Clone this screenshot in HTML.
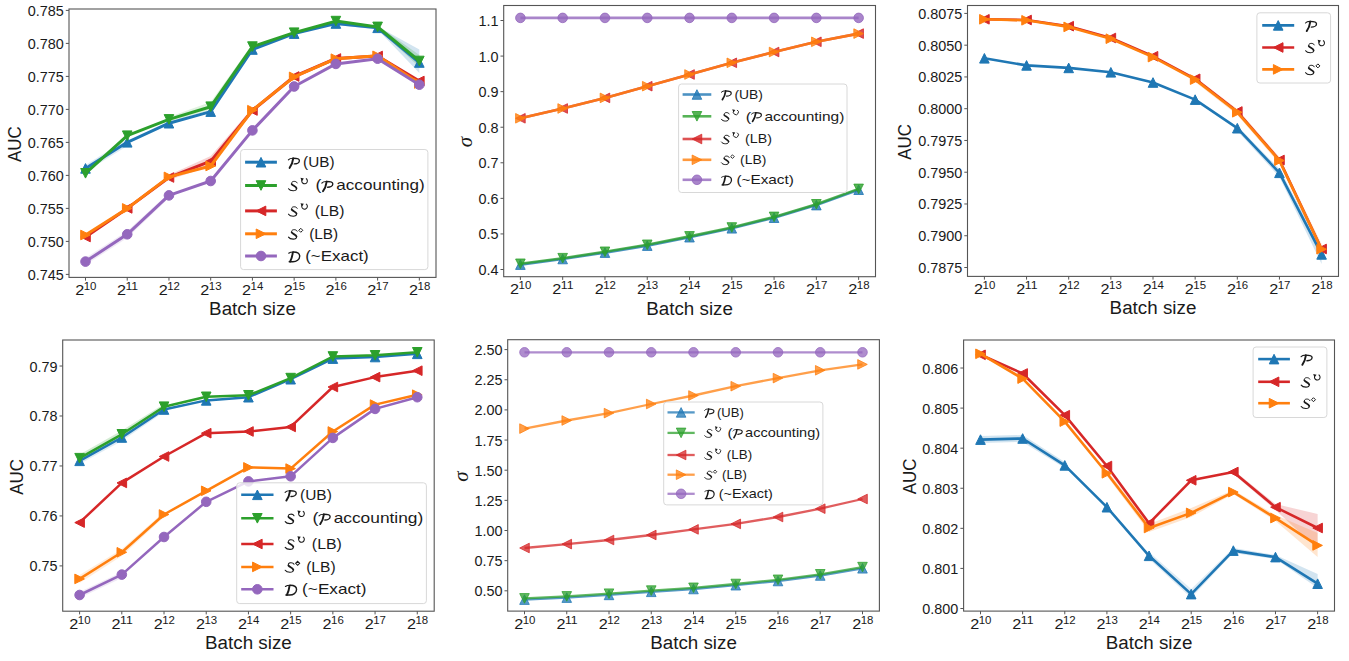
<!DOCTYPE html>
<html><head><meta charset="utf-8"><style>
html,body{margin:0;padding:0;background:#fff;}
svg{display:block;}
</style></head><body>
<svg width="1349" height="661" viewBox="0 0 1349 661">
<rect width="1349" height="661" fill="#fff"/>
<g>
<path d="M335.88,22.00 L377.61,26.50 L419.34,49.50 L419.34,73.00 L377.61,29.50 L335.88,25.00 Z" fill="#1f77b4" fill-opacity="0.2" stroke="none"/>
<path d="M377.61,25.50 L419.34,55.00 L419.34,67.00 L377.61,28.50 Z" fill="#2ca02c" fill-opacity="0.2" stroke="none"/>
<path d="M168.96,175.00 L210.69,156.00 L252.42,108.00 L252.42,113.00 L210.69,166.00 L168.96,180.00 Z" fill="#d62728" fill-opacity="0.2" stroke="none"/>
<path d="M168.96,117.00 L210.69,102.00 L252.42,44.00 L252.42,49.00 L210.69,110.00 L168.96,122.00 Z" fill="#2ca02c" fill-opacity="0.15" stroke="none"/>
<path d="M85.50,165.00 L127.23,139.00 L127.23,146.00 L85.50,172.00 Z" fill="#1f77b4" fill-opacity="0.15" stroke="none"/>
<path d="M85.50,258.00 L127.23,231.00 L168.96,193.00 L168.96,198.00 L127.23,238.00 L85.50,265.00 Z" fill="#9467bd" fill-opacity="0.15" stroke="none"/>
<path d="M85.50,168.40 L127.23,142.30 L168.96,123.20 L210.69,111.60 L252.42,49.50 L294.15,33.60 L335.88,23.50 L377.61,27.80 L419.34,62.50" fill="none" stroke="#1f77b4" stroke-opacity="1.0" stroke-width="3.0" stroke-linejoin="round" stroke-linecap="butt"/>
<polygon points="85.50,163.60 80.70,173.20 90.30,173.20" fill="#1f77b4" stroke="#1f77b4" stroke-width="1.0" fill-opacity="1.0" stroke-opacity="1.0" stroke-linejoin="miter"/>
<polygon points="127.23,137.50 122.43,147.10 132.03,147.10" fill="#1f77b4" stroke="#1f77b4" stroke-width="1.0" fill-opacity="1.0" stroke-opacity="1.0" stroke-linejoin="miter"/>
<polygon points="168.96,118.40 164.16,128.00 173.76,128.00" fill="#1f77b4" stroke="#1f77b4" stroke-width="1.0" fill-opacity="1.0" stroke-opacity="1.0" stroke-linejoin="miter"/>
<polygon points="210.69,106.80 205.89,116.40 215.49,116.40" fill="#1f77b4" stroke="#1f77b4" stroke-width="1.0" fill-opacity="1.0" stroke-opacity="1.0" stroke-linejoin="miter"/>
<polygon points="252.42,44.70 247.62,54.30 257.22,54.30" fill="#1f77b4" stroke="#1f77b4" stroke-width="1.0" fill-opacity="1.0" stroke-opacity="1.0" stroke-linejoin="miter"/>
<polygon points="294.15,28.80 289.35,38.40 298.95,38.40" fill="#1f77b4" stroke="#1f77b4" stroke-width="1.0" fill-opacity="1.0" stroke-opacity="1.0" stroke-linejoin="miter"/>
<polygon points="335.88,18.70 331.08,28.30 340.68,28.30" fill="#1f77b4" stroke="#1f77b4" stroke-width="1.0" fill-opacity="1.0" stroke-opacity="1.0" stroke-linejoin="miter"/>
<polygon points="377.61,23.00 372.81,32.60 382.41,32.60" fill="#1f77b4" stroke="#1f77b4" stroke-width="1.0" fill-opacity="1.0" stroke-opacity="1.0" stroke-linejoin="miter"/>
<polygon points="419.34,57.70 414.54,67.30 424.14,67.30" fill="#1f77b4" stroke="#1f77b4" stroke-width="1.0" fill-opacity="1.0" stroke-opacity="1.0" stroke-linejoin="miter"/>
<path d="M85.50,173.30 L127.23,135.70 L168.96,119.40 L210.69,106.70 L252.42,46.60 L294.15,32.70 L335.88,21.10 L377.61,26.90 L419.34,61.00" fill="none" stroke="#2ca02c" stroke-opacity="1.0" stroke-width="3.0" stroke-linejoin="round" stroke-linecap="butt"/>
<polygon points="85.50,178.10 80.70,168.50 90.30,168.50" fill="#2ca02c" stroke="#2ca02c" stroke-width="1.0" fill-opacity="1.0" stroke-opacity="1.0" stroke-linejoin="miter"/>
<polygon points="127.23,140.50 122.43,130.90 132.03,130.90" fill="#2ca02c" stroke="#2ca02c" stroke-width="1.0" fill-opacity="1.0" stroke-opacity="1.0" stroke-linejoin="miter"/>
<polygon points="168.96,124.20 164.16,114.60 173.76,114.60" fill="#2ca02c" stroke="#2ca02c" stroke-width="1.0" fill-opacity="1.0" stroke-opacity="1.0" stroke-linejoin="miter"/>
<polygon points="210.69,111.50 205.89,101.90 215.49,101.90" fill="#2ca02c" stroke="#2ca02c" stroke-width="1.0" fill-opacity="1.0" stroke-opacity="1.0" stroke-linejoin="miter"/>
<polygon points="252.42,51.40 247.62,41.80 257.22,41.80" fill="#2ca02c" stroke="#2ca02c" stroke-width="1.0" fill-opacity="1.0" stroke-opacity="1.0" stroke-linejoin="miter"/>
<polygon points="294.15,37.50 289.35,27.90 298.95,27.90" fill="#2ca02c" stroke="#2ca02c" stroke-width="1.0" fill-opacity="1.0" stroke-opacity="1.0" stroke-linejoin="miter"/>
<polygon points="335.88,25.90 331.08,16.30 340.68,16.30" fill="#2ca02c" stroke="#2ca02c" stroke-width="1.0" fill-opacity="1.0" stroke-opacity="1.0" stroke-linejoin="miter"/>
<polygon points="377.61,31.70 372.81,22.10 382.41,22.10" fill="#2ca02c" stroke="#2ca02c" stroke-width="1.0" fill-opacity="1.0" stroke-opacity="1.0" stroke-linejoin="miter"/>
<polygon points="419.34,65.80 414.54,56.20 424.14,56.20" fill="#2ca02c" stroke="#2ca02c" stroke-width="1.0" fill-opacity="1.0" stroke-opacity="1.0" stroke-linejoin="miter"/>
<path d="M85.50,237.00 L127.23,208.40 L168.96,177.50 L210.69,161.20 L252.42,110.50 L294.15,76.50 L335.88,58.50 L377.61,56.00 L419.34,81.00" fill="none" stroke="#d62728" stroke-opacity="1.0" stroke-width="3.0" stroke-linejoin="round" stroke-linecap="butt"/>
<polygon points="80.70,237.00 90.30,232.20 90.30,241.80" fill="#d62728" stroke="#d62728" stroke-width="1.0" fill-opacity="1.0" stroke-opacity="1.0" stroke-linejoin="miter"/>
<polygon points="122.43,208.40 132.03,203.60 132.03,213.20" fill="#d62728" stroke="#d62728" stroke-width="1.0" fill-opacity="1.0" stroke-opacity="1.0" stroke-linejoin="miter"/>
<polygon points="164.16,177.50 173.76,172.70 173.76,182.30" fill="#d62728" stroke="#d62728" stroke-width="1.0" fill-opacity="1.0" stroke-opacity="1.0" stroke-linejoin="miter"/>
<polygon points="205.89,161.20 215.49,156.40 215.49,166.00" fill="#d62728" stroke="#d62728" stroke-width="1.0" fill-opacity="1.0" stroke-opacity="1.0" stroke-linejoin="miter"/>
<polygon points="247.62,110.50 257.22,105.70 257.22,115.30" fill="#d62728" stroke="#d62728" stroke-width="1.0" fill-opacity="1.0" stroke-opacity="1.0" stroke-linejoin="miter"/>
<polygon points="289.35,76.50 298.95,71.70 298.95,81.30" fill="#d62728" stroke="#d62728" stroke-width="1.0" fill-opacity="1.0" stroke-opacity="1.0" stroke-linejoin="miter"/>
<polygon points="331.08,58.50 340.68,53.70 340.68,63.30" fill="#d62728" stroke="#d62728" stroke-width="1.0" fill-opacity="1.0" stroke-opacity="1.0" stroke-linejoin="miter"/>
<polygon points="372.81,56.00 382.41,51.20 382.41,60.80" fill="#d62728" stroke="#d62728" stroke-width="1.0" fill-opacity="1.0" stroke-opacity="1.0" stroke-linejoin="miter"/>
<polygon points="414.54,81.00 424.14,76.20 424.14,85.80" fill="#d62728" stroke="#d62728" stroke-width="1.0" fill-opacity="1.0" stroke-opacity="1.0" stroke-linejoin="miter"/>
<path d="M85.50,235.00 L127.23,208.40 L168.96,176.90 L210.69,166.00 L252.42,110.20 L294.15,76.90 L335.88,58.70 L377.61,55.80 L419.34,83.50" fill="none" stroke="#ff7f0e" stroke-opacity="1.0" stroke-width="3.0" stroke-linejoin="round" stroke-linecap="butt"/>
<polygon points="90.30,235.00 80.70,230.20 80.70,239.80" fill="#ff7f0e" stroke="#ff7f0e" stroke-width="1.0" fill-opacity="1.0" stroke-opacity="1.0" stroke-linejoin="miter"/>
<polygon points="132.03,208.40 122.43,203.60 122.43,213.20" fill="#ff7f0e" stroke="#ff7f0e" stroke-width="1.0" fill-opacity="1.0" stroke-opacity="1.0" stroke-linejoin="miter"/>
<polygon points="173.76,176.90 164.16,172.10 164.16,181.70" fill="#ff7f0e" stroke="#ff7f0e" stroke-width="1.0" fill-opacity="1.0" stroke-opacity="1.0" stroke-linejoin="miter"/>
<polygon points="215.49,166.00 205.89,161.20 205.89,170.80" fill="#ff7f0e" stroke="#ff7f0e" stroke-width="1.0" fill-opacity="1.0" stroke-opacity="1.0" stroke-linejoin="miter"/>
<polygon points="257.22,110.20 247.62,105.40 247.62,115.00" fill="#ff7f0e" stroke="#ff7f0e" stroke-width="1.0" fill-opacity="1.0" stroke-opacity="1.0" stroke-linejoin="miter"/>
<polygon points="298.95,76.90 289.35,72.10 289.35,81.70" fill="#ff7f0e" stroke="#ff7f0e" stroke-width="1.0" fill-opacity="1.0" stroke-opacity="1.0" stroke-linejoin="miter"/>
<polygon points="340.68,58.70 331.08,53.90 331.08,63.50" fill="#ff7f0e" stroke="#ff7f0e" stroke-width="1.0" fill-opacity="1.0" stroke-opacity="1.0" stroke-linejoin="miter"/>
<polygon points="382.41,55.80 372.81,51.00 372.81,60.60" fill="#ff7f0e" stroke="#ff7f0e" stroke-width="1.0" fill-opacity="1.0" stroke-opacity="1.0" stroke-linejoin="miter"/>
<polygon points="424.14,83.50 414.54,78.70 414.54,88.30" fill="#ff7f0e" stroke="#ff7f0e" stroke-width="1.0" fill-opacity="1.0" stroke-opacity="1.0" stroke-linejoin="miter"/>
<path d="M85.50,261.60 L127.23,234.30 L168.96,195.40 L210.69,181.00 L252.42,130.40 L294.15,86.50 L335.88,63.90 L377.61,58.70 L419.34,84.70" fill="none" stroke="#9467bd" stroke-opacity="1.0" stroke-width="3.0" stroke-linejoin="round" stroke-linecap="butt"/>
<circle cx="85.50" cy="261.60" r="4.80" fill="#9467bd" stroke="#9467bd" stroke-width="1.0" fill-opacity="1.0" stroke-opacity="1.0"/>
<circle cx="127.23" cy="234.30" r="4.80" fill="#9467bd" stroke="#9467bd" stroke-width="1.0" fill-opacity="1.0" stroke-opacity="1.0"/>
<circle cx="168.96" cy="195.40" r="4.80" fill="#9467bd" stroke="#9467bd" stroke-width="1.0" fill-opacity="1.0" stroke-opacity="1.0"/>
<circle cx="210.69" cy="181.00" r="4.80" fill="#9467bd" stroke="#9467bd" stroke-width="1.0" fill-opacity="1.0" stroke-opacity="1.0"/>
<circle cx="252.42" cy="130.40" r="4.80" fill="#9467bd" stroke="#9467bd" stroke-width="1.0" fill-opacity="1.0" stroke-opacity="1.0"/>
<circle cx="294.15" cy="86.50" r="4.80" fill="#9467bd" stroke="#9467bd" stroke-width="1.0" fill-opacity="1.0" stroke-opacity="1.0"/>
<circle cx="335.88" cy="63.90" r="4.80" fill="#9467bd" stroke="#9467bd" stroke-width="1.0" fill-opacity="1.0" stroke-opacity="1.0"/>
<circle cx="377.61" cy="58.70" r="4.80" fill="#9467bd" stroke="#9467bd" stroke-width="1.0" fill-opacity="1.0" stroke-opacity="1.0"/>
<circle cx="419.34" cy="84.70" r="4.80" fill="#9467bd" stroke="#9467bd" stroke-width="1.0" fill-opacity="1.0" stroke-opacity="1.0"/>
<rect x="69.00" y="9.00" width="367.00" height="268.40" fill="none" stroke="#555" stroke-width="1.1"/>
<line x1="85.50" y1="277.40" x2="85.50" y2="280.60" stroke="#555" stroke-width="1"/>
<text x="75.20" y="294.70" font-family='"Liberation Sans", sans-serif' font-size="14.8" textLength="9.03" lengthAdjust="spacingAndGlyphs" fill="#1a1a1a">2</text>
<text x="83.70" y="289.80" font-family='"Liberation Sans", sans-serif' font-size="10.0" textLength="12.72" lengthAdjust="spacingAndGlyphs" fill="#1a1a1a">10</text>
<line x1="127.23" y1="277.40" x2="127.23" y2="280.60" stroke="#555" stroke-width="1"/>
<text x="116.93" y="294.70" font-family='"Liberation Sans", sans-serif' font-size="14.8" textLength="9.03" lengthAdjust="spacingAndGlyphs" fill="#1a1a1a">2</text>
<text x="125.43" y="289.80" font-family='"Liberation Sans", sans-serif' font-size="10.0" textLength="12.72" lengthAdjust="spacingAndGlyphs" fill="#1a1a1a">11</text>
<line x1="168.96" y1="277.40" x2="168.96" y2="280.60" stroke="#555" stroke-width="1"/>
<text x="158.66" y="294.70" font-family='"Liberation Sans", sans-serif' font-size="14.8" textLength="9.03" lengthAdjust="spacingAndGlyphs" fill="#1a1a1a">2</text>
<text x="167.16" y="289.80" font-family='"Liberation Sans", sans-serif' font-size="10.0" textLength="12.72" lengthAdjust="spacingAndGlyphs" fill="#1a1a1a">12</text>
<line x1="210.69" y1="277.40" x2="210.69" y2="280.60" stroke="#555" stroke-width="1"/>
<text x="200.39" y="294.70" font-family='"Liberation Sans", sans-serif' font-size="14.8" textLength="9.03" lengthAdjust="spacingAndGlyphs" fill="#1a1a1a">2</text>
<text x="208.89" y="289.80" font-family='"Liberation Sans", sans-serif' font-size="10.0" textLength="12.72" lengthAdjust="spacingAndGlyphs" fill="#1a1a1a">13</text>
<line x1="252.42" y1="277.40" x2="252.42" y2="280.60" stroke="#555" stroke-width="1"/>
<text x="242.12" y="294.70" font-family='"Liberation Sans", sans-serif' font-size="14.8" textLength="9.03" lengthAdjust="spacingAndGlyphs" fill="#1a1a1a">2</text>
<text x="250.62" y="289.80" font-family='"Liberation Sans", sans-serif' font-size="10.0" textLength="12.72" lengthAdjust="spacingAndGlyphs" fill="#1a1a1a">14</text>
<line x1="294.15" y1="277.40" x2="294.15" y2="280.60" stroke="#555" stroke-width="1"/>
<text x="283.85" y="294.70" font-family='"Liberation Sans", sans-serif' font-size="14.8" textLength="9.03" lengthAdjust="spacingAndGlyphs" fill="#1a1a1a">2</text>
<text x="292.35" y="289.80" font-family='"Liberation Sans", sans-serif' font-size="10.0" textLength="12.72" lengthAdjust="spacingAndGlyphs" fill="#1a1a1a">15</text>
<line x1="335.88" y1="277.40" x2="335.88" y2="280.60" stroke="#555" stroke-width="1"/>
<text x="325.58" y="294.70" font-family='"Liberation Sans", sans-serif' font-size="14.8" textLength="9.03" lengthAdjust="spacingAndGlyphs" fill="#1a1a1a">2</text>
<text x="334.08" y="289.80" font-family='"Liberation Sans", sans-serif' font-size="10.0" textLength="12.72" lengthAdjust="spacingAndGlyphs" fill="#1a1a1a">16</text>
<line x1="377.61" y1="277.40" x2="377.61" y2="280.60" stroke="#555" stroke-width="1"/>
<text x="367.31" y="294.70" font-family='"Liberation Sans", sans-serif' font-size="14.8" textLength="9.03" lengthAdjust="spacingAndGlyphs" fill="#1a1a1a">2</text>
<text x="375.81" y="289.80" font-family='"Liberation Sans", sans-serif' font-size="10.0" textLength="12.72" lengthAdjust="spacingAndGlyphs" fill="#1a1a1a">17</text>
<line x1="419.34" y1="277.40" x2="419.34" y2="280.60" stroke="#555" stroke-width="1"/>
<text x="409.04" y="294.70" font-family='"Liberation Sans", sans-serif' font-size="14.8" textLength="9.03" lengthAdjust="spacingAndGlyphs" fill="#1a1a1a">2</text>
<text x="417.54" y="289.80" font-family='"Liberation Sans", sans-serif' font-size="10.0" textLength="12.72" lengthAdjust="spacingAndGlyphs" fill="#1a1a1a">18</text>
<line x1="65.80" y1="274.40" x2="69.00" y2="274.40" stroke="#555" stroke-width="1"/>
<text x="63.80" y="279.90" font-family='"Liberation Sans", sans-serif' font-size="14.0" text-anchor="end" textLength="36.06" lengthAdjust="spacingAndGlyphs" fill="#1a1a1a">0.745</text>
<line x1="65.80" y1="241.40" x2="69.00" y2="241.40" stroke="#555" stroke-width="1"/>
<text x="63.80" y="246.90" font-family='"Liberation Sans", sans-serif' font-size="14.0" text-anchor="end" textLength="36.06" lengthAdjust="spacingAndGlyphs" fill="#1a1a1a">0.750</text>
<line x1="65.80" y1="208.40" x2="69.00" y2="208.40" stroke="#555" stroke-width="1"/>
<text x="63.80" y="213.90" font-family='"Liberation Sans", sans-serif' font-size="14.0" text-anchor="end" textLength="36.06" lengthAdjust="spacingAndGlyphs" fill="#1a1a1a">0.755</text>
<line x1="65.80" y1="175.40" x2="69.00" y2="175.40" stroke="#555" stroke-width="1"/>
<text x="63.80" y="180.90" font-family='"Liberation Sans", sans-serif' font-size="14.0" text-anchor="end" textLength="36.06" lengthAdjust="spacingAndGlyphs" fill="#1a1a1a">0.760</text>
<line x1="65.80" y1="142.40" x2="69.00" y2="142.40" stroke="#555" stroke-width="1"/>
<text x="63.80" y="147.90" font-family='"Liberation Sans", sans-serif' font-size="14.0" text-anchor="end" textLength="36.06" lengthAdjust="spacingAndGlyphs" fill="#1a1a1a">0.765</text>
<line x1="65.80" y1="109.40" x2="69.00" y2="109.40" stroke="#555" stroke-width="1"/>
<text x="63.80" y="114.90" font-family='"Liberation Sans", sans-serif' font-size="14.0" text-anchor="end" textLength="36.06" lengthAdjust="spacingAndGlyphs" fill="#1a1a1a">0.770</text>
<line x1="65.80" y1="76.40" x2="69.00" y2="76.40" stroke="#555" stroke-width="1"/>
<text x="63.80" y="81.90" font-family='"Liberation Sans", sans-serif' font-size="14.0" text-anchor="end" textLength="36.06" lengthAdjust="spacingAndGlyphs" fill="#1a1a1a">0.775</text>
<line x1="65.80" y1="43.40" x2="69.00" y2="43.40" stroke="#555" stroke-width="1"/>
<text x="63.80" y="48.90" font-family='"Liberation Sans", sans-serif' font-size="14.0" text-anchor="end" textLength="36.06" lengthAdjust="spacingAndGlyphs" fill="#1a1a1a">0.780</text>
<line x1="65.80" y1="10.40" x2="69.00" y2="10.40" stroke="#555" stroke-width="1"/>
<text x="63.80" y="15.90" font-family='"Liberation Sans", sans-serif' font-size="14.0" text-anchor="end" textLength="36.06" lengthAdjust="spacingAndGlyphs" fill="#1a1a1a">0.785</text>
<text x="252.50" y="315.20" font-family='"Liberation Sans", sans-serif' font-size="17.6" text-anchor="middle" textLength="86.73" lengthAdjust="spacingAndGlyphs" fill="#1a1a1a">Batch size</text>
<g transform="translate(21.00,144.20) rotate(-90)"><text x="0.00" y="0.00" font-family='"Liberation Sans", sans-serif' font-size="17.6" text-anchor="middle" textLength="35.73" lengthAdjust="spacingAndGlyphs" fill="#1a1a1a">AUC</text></g>
<rect x="240.60" y="149.50" width="187.30" height="120.10" rx="3" ry="3" fill="#ffffff" fill-opacity="0.8" stroke="#d8d8d8" stroke-width="1"/>
<line x1="245.10" y1="162.20" x2="276.90" y2="162.20" stroke="#1f77b4" stroke-opacity="1.0" stroke-width="3.0"/>
<polygon points="261.00,157.40 256.20,167.00 265.80,167.00" fill="#1f77b4" stroke="#1f77b4" stroke-width="1.0" fill-opacity="1.0" stroke-opacity="1.0" stroke-linejoin="miter"/>
<g transform="translate(288.40,157.90) scale(1.0000)" fill="none" stroke="#1a1a1a" stroke-linecap="round"><path d="M0,1.9 C1,0.6 2.5,0.3 4.6,0.3" stroke-width="1.1"/><path d="M4.6,0.3 C8,0.3 11,0.7 11,2.8 C11,4.8 8.3,6 5.8,6" stroke-width="1.35"/><path d="M4.8,0.6 C4.4,3.5 3.2,7.5 1.2,10" stroke-width="1.9"/></g>
<text x="303.10" y="167.10" font-family='"Liberation Sans", sans-serif' font-size="14.4" textLength="31.40" lengthAdjust="spacingAndGlyphs" fill="#1a1a1a">(UB)</text>
<line x1="245.10" y1="185.50" x2="276.90" y2="185.50" stroke="#2ca02c" stroke-opacity="1.0" stroke-width="3.0"/>
<polygon points="261.00,190.30 256.20,180.70 265.80,180.70" fill="#2ca02c" stroke="#2ca02c" stroke-width="1.0" fill-opacity="1.0" stroke-opacity="1.0" stroke-linejoin="miter"/>
<g transform="translate(288.40,180.40) scale(1.0000)" fill="none" stroke="#1a1a1a" stroke-linecap="round"><path d="M8.8,2.5 C8.2,1.2 6.7,0.9 5.3,1.0 C3.6,1.2 2.8,2.3 3.3,3.7" stroke-width="1.0"/><path d="M3.3,3.7 C4,5.1 7.6,6 8.1,7.8" stroke-width="1.8"/><path d="M8.1,7.8 C8.6,9.5 6.8,10.4 4.8,10.4 C2.6,10.4 1,9.8 0.1,8.4" stroke-width="1.1"/></g>
<g transform="translate(300.50,177.60) scale(1.0000)"><path d="M5.4,0.9 A2.8,2.8 0 1 1 1.9,1.6" fill="none" stroke="#1a1a1a" stroke-width="1.05"/><path d="M0.0,0.2 L3.4,0.8 L1.3,3.6 Z" fill="#1a1a1a"/></g>
<text x="315.51" y="190.40" font-family='"Liberation Sans", sans-serif' font-size="14.4" textLength="5.89" lengthAdjust="spacingAndGlyphs" fill="#1a1a1a">(</text>
<g transform="translate(321.81,181.20) scale(1.0000)" fill="none" stroke="#1a1a1a" stroke-linecap="round"><path d="M0,1.9 C1,0.6 2.5,0.3 4.6,0.3" stroke-width="1.1"/><path d="M4.6,0.3 C8,0.3 11,0.7 11,2.8 C11,4.8 8.3,6 5.8,6" stroke-width="1.35"/><path d="M4.8,0.6 C4.4,3.5 3.2,7.5 1.2,10" stroke-width="1.9"/></g>
<text x="336.30" y="190.40" font-family='"Liberation Sans", sans-serif' font-size="14.4" textLength="88.35" lengthAdjust="spacingAndGlyphs" fill="#1a1a1a">accounting)</text>
<line x1="245.10" y1="210.90" x2="276.90" y2="210.90" stroke="#d62728" stroke-opacity="1.0" stroke-width="3.0"/>
<polygon points="256.20,210.90 265.80,206.10 265.80,215.70" fill="#d62728" stroke="#d62728" stroke-width="1.0" fill-opacity="1.0" stroke-opacity="1.0" stroke-linejoin="miter"/>
<g transform="translate(288.40,205.80) scale(1.0000)" fill="none" stroke="#1a1a1a" stroke-linecap="round"><path d="M8.8,2.5 C8.2,1.2 6.7,0.9 5.3,1.0 C3.6,1.2 2.8,2.3 3.3,3.7" stroke-width="1.0"/><path d="M3.3,3.7 C4,5.1 7.6,6 8.1,7.8" stroke-width="1.8"/><path d="M8.1,7.8 C8.6,9.5 6.8,10.4 4.8,10.4 C2.6,10.4 1,9.8 0.1,8.4" stroke-width="1.1"/></g>
<g transform="translate(300.50,203.00) scale(1.0000)"><path d="M5.4,0.9 A2.8,2.8 0 1 1 1.9,1.6" fill="none" stroke="#1a1a1a" stroke-width="1.05"/><path d="M0.0,0.2 L3.4,0.8 L1.3,3.6 Z" fill="#1a1a1a"/></g>
<text x="314.80" y="215.80" font-family='"Liberation Sans", sans-serif' font-size="14.4" textLength="29.64" lengthAdjust="spacingAndGlyphs" fill="#1a1a1a">(LB)</text>
<line x1="245.10" y1="233.80" x2="276.90" y2="233.80" stroke="#ff7f0e" stroke-opacity="1.0" stroke-width="3.0"/>
<polygon points="265.80,233.80 256.20,229.00 256.20,238.60" fill="#ff7f0e" stroke="#ff7f0e" stroke-width="1.0" fill-opacity="1.0" stroke-opacity="1.0" stroke-linejoin="miter"/>
<g transform="translate(288.40,228.70) scale(1.0000)" fill="none" stroke="#1a1a1a" stroke-linecap="round"><path d="M8.8,2.5 C8.2,1.2 6.7,0.9 5.3,1.0 C3.6,1.2 2.8,2.3 3.3,3.7" stroke-width="1.0"/><path d="M3.3,3.7 C4,5.1 7.6,6 8.1,7.8" stroke-width="1.8"/><path d="M8.1,7.8 C8.6,9.5 6.8,10.4 4.8,10.4 C2.6,10.4 1,9.8 0.1,8.4" stroke-width="1.1"/></g>
<path d="M300.78,228.30 L302.78,230.30 L300.78,232.30 L298.78,230.30 Z" fill="none" stroke="#1a1a1a" stroke-width="1.00"/>
<text x="309.20" y="238.70" font-family='"Liberation Sans", sans-serif' font-size="14.4" textLength="29.05" lengthAdjust="spacingAndGlyphs" fill="#1a1a1a">(LB)</text>
<line x1="245.10" y1="256.00" x2="276.90" y2="256.00" stroke="#9467bd" stroke-opacity="1.0" stroke-width="3.0"/>
<circle cx="261.00" cy="256.00" r="4.80" fill="#9467bd" stroke="#9467bd" stroke-width="1.0" fill-opacity="1.0" stroke-opacity="1.0"/>
<g transform="translate(288.40,251.70) scale(1.0000)" fill="none" stroke="#1a1a1a" stroke-linecap="round"><path d="M0.3,1.5 C1.5,0.6 3,0.3 5,0.3" stroke-width="1.1"/><path d="M5,0.3 C9,0.3 11.3,1.9 11.3,4.6 C11.3,8 8,10 4.5,10 L0.8,10" stroke-width="1.4"/><path d="M4.4,0.7 C4,4 3,7.5 1.8,9.8" stroke-width="1.9"/></g>
<text x="305.20" y="260.90" font-family='"Liberation Sans", sans-serif' font-size="14.4" textLength="63.58" lengthAdjust="spacingAndGlyphs" fill="#1a1a1a">(~Exact)</text>
</g>
<g>
<path d="M520.40,264.60 L562.68,259.00 L604.96,252.60 L647.24,245.60 L689.52,237.20 L731.80,228.30 L774.08,217.70 L816.36,205.10 L858.64,189.70" fill="none" stroke="#1f77b4" stroke-opacity="0.8" stroke-width="2.6" stroke-linejoin="round" stroke-linecap="butt"/>
<polygon points="520.40,259.80 515.60,269.40 525.20,269.40" fill="#1f77b4" stroke="#1f77b4" stroke-width="1.0" fill-opacity="0.8" stroke-opacity="0.8" stroke-linejoin="miter"/>
<polygon points="562.68,254.20 557.88,263.80 567.48,263.80" fill="#1f77b4" stroke="#1f77b4" stroke-width="1.0" fill-opacity="0.8" stroke-opacity="0.8" stroke-linejoin="miter"/>
<polygon points="604.96,247.80 600.16,257.40 609.76,257.40" fill="#1f77b4" stroke="#1f77b4" stroke-width="1.0" fill-opacity="0.8" stroke-opacity="0.8" stroke-linejoin="miter"/>
<polygon points="647.24,240.80 642.44,250.40 652.04,250.40" fill="#1f77b4" stroke="#1f77b4" stroke-width="1.0" fill-opacity="0.8" stroke-opacity="0.8" stroke-linejoin="miter"/>
<polygon points="689.52,232.40 684.72,242.00 694.32,242.00" fill="#1f77b4" stroke="#1f77b4" stroke-width="1.0" fill-opacity="0.8" stroke-opacity="0.8" stroke-linejoin="miter"/>
<polygon points="731.80,223.50 727.00,233.10 736.60,233.10" fill="#1f77b4" stroke="#1f77b4" stroke-width="1.0" fill-opacity="0.8" stroke-opacity="0.8" stroke-linejoin="miter"/>
<polygon points="774.08,212.90 769.28,222.50 778.88,222.50" fill="#1f77b4" stroke="#1f77b4" stroke-width="1.0" fill-opacity="0.8" stroke-opacity="0.8" stroke-linejoin="miter"/>
<polygon points="816.36,200.30 811.56,209.90 821.16,209.90" fill="#1f77b4" stroke="#1f77b4" stroke-width="1.0" fill-opacity="0.8" stroke-opacity="0.8" stroke-linejoin="miter"/>
<polygon points="858.64,184.90 853.84,194.50 863.44,194.50" fill="#1f77b4" stroke="#1f77b4" stroke-width="1.0" fill-opacity="0.8" stroke-opacity="0.8" stroke-linejoin="miter"/>
<path d="M520.40,263.80 L562.68,258.20 L604.96,251.80 L647.24,244.80 L689.52,236.40 L731.80,227.50 L774.08,216.90 L816.36,204.30 L858.64,188.90" fill="none" stroke="#2ca02c" stroke-opacity="0.8" stroke-width="2.6" stroke-linejoin="round" stroke-linecap="butt"/>
<polygon points="520.40,268.60 515.60,259.00 525.20,259.00" fill="#2ca02c" stroke="#2ca02c" stroke-width="1.0" fill-opacity="0.8" stroke-opacity="0.8" stroke-linejoin="miter"/>
<polygon points="562.68,263.00 557.88,253.40 567.48,253.40" fill="#2ca02c" stroke="#2ca02c" stroke-width="1.0" fill-opacity="0.8" stroke-opacity="0.8" stroke-linejoin="miter"/>
<polygon points="604.96,256.60 600.16,247.00 609.76,247.00" fill="#2ca02c" stroke="#2ca02c" stroke-width="1.0" fill-opacity="0.8" stroke-opacity="0.8" stroke-linejoin="miter"/>
<polygon points="647.24,249.60 642.44,240.00 652.04,240.00" fill="#2ca02c" stroke="#2ca02c" stroke-width="1.0" fill-opacity="0.8" stroke-opacity="0.8" stroke-linejoin="miter"/>
<polygon points="689.52,241.20 684.72,231.60 694.32,231.60" fill="#2ca02c" stroke="#2ca02c" stroke-width="1.0" fill-opacity="0.8" stroke-opacity="0.8" stroke-linejoin="miter"/>
<polygon points="731.80,232.30 727.00,222.70 736.60,222.70" fill="#2ca02c" stroke="#2ca02c" stroke-width="1.0" fill-opacity="0.8" stroke-opacity="0.8" stroke-linejoin="miter"/>
<polygon points="774.08,221.70 769.28,212.10 778.88,212.10" fill="#2ca02c" stroke="#2ca02c" stroke-width="1.0" fill-opacity="0.8" stroke-opacity="0.8" stroke-linejoin="miter"/>
<polygon points="816.36,209.10 811.56,199.50 821.16,199.50" fill="#2ca02c" stroke="#2ca02c" stroke-width="1.0" fill-opacity="0.8" stroke-opacity="0.8" stroke-linejoin="miter"/>
<polygon points="858.64,193.70 853.84,184.10 863.44,184.10" fill="#2ca02c" stroke="#2ca02c" stroke-width="1.0" fill-opacity="0.8" stroke-opacity="0.8" stroke-linejoin="miter"/>
<path d="M520.40,118.30 L562.68,108.50 L604.96,97.90 L647.24,86.20 L689.52,74.50 L731.80,62.80 L774.08,52.00 L816.36,41.80 L858.64,33.60" fill="none" stroke="#d62728" stroke-opacity="0.8" stroke-width="2.6" stroke-linejoin="round" stroke-linecap="butt"/>
<polygon points="515.60,118.30 525.20,113.50 525.20,123.10" fill="#d62728" stroke="#d62728" stroke-width="1.0" fill-opacity="0.8" stroke-opacity="0.8" stroke-linejoin="miter"/>
<polygon points="557.88,108.50 567.48,103.70 567.48,113.30" fill="#d62728" stroke="#d62728" stroke-width="1.0" fill-opacity="0.8" stroke-opacity="0.8" stroke-linejoin="miter"/>
<polygon points="600.16,97.90 609.76,93.10 609.76,102.70" fill="#d62728" stroke="#d62728" stroke-width="1.0" fill-opacity="0.8" stroke-opacity="0.8" stroke-linejoin="miter"/>
<polygon points="642.44,86.20 652.04,81.40 652.04,91.00" fill="#d62728" stroke="#d62728" stroke-width="1.0" fill-opacity="0.8" stroke-opacity="0.8" stroke-linejoin="miter"/>
<polygon points="684.72,74.50 694.32,69.70 694.32,79.30" fill="#d62728" stroke="#d62728" stroke-width="1.0" fill-opacity="0.8" stroke-opacity="0.8" stroke-linejoin="miter"/>
<polygon points="727.00,62.80 736.60,58.00 736.60,67.60" fill="#d62728" stroke="#d62728" stroke-width="1.0" fill-opacity="0.8" stroke-opacity="0.8" stroke-linejoin="miter"/>
<polygon points="769.28,52.00 778.88,47.20 778.88,56.80" fill="#d62728" stroke="#d62728" stroke-width="1.0" fill-opacity="0.8" stroke-opacity="0.8" stroke-linejoin="miter"/>
<polygon points="811.56,41.80 821.16,37.00 821.16,46.60" fill="#d62728" stroke="#d62728" stroke-width="1.0" fill-opacity="0.8" stroke-opacity="0.8" stroke-linejoin="miter"/>
<polygon points="853.84,33.60 863.44,28.80 863.44,38.40" fill="#d62728" stroke="#d62728" stroke-width="1.0" fill-opacity="0.8" stroke-opacity="0.8" stroke-linejoin="miter"/>
<path d="M520.40,118.30 L562.68,108.50 L604.96,97.90 L647.24,86.20 L689.52,74.50 L731.80,62.80 L774.08,52.00 L816.36,41.80 L858.64,33.60" fill="none" stroke="#ff7f0e" stroke-opacity="0.8" stroke-width="2.6" stroke-linejoin="round" stroke-linecap="butt"/>
<polygon points="525.20,118.30 515.60,113.50 515.60,123.10" fill="#ff7f0e" stroke="#ff7f0e" stroke-width="1.0" fill-opacity="0.8" stroke-opacity="0.8" stroke-linejoin="miter"/>
<polygon points="567.48,108.50 557.88,103.70 557.88,113.30" fill="#ff7f0e" stroke="#ff7f0e" stroke-width="1.0" fill-opacity="0.8" stroke-opacity="0.8" stroke-linejoin="miter"/>
<polygon points="609.76,97.90 600.16,93.10 600.16,102.70" fill="#ff7f0e" stroke="#ff7f0e" stroke-width="1.0" fill-opacity="0.8" stroke-opacity="0.8" stroke-linejoin="miter"/>
<polygon points="652.04,86.20 642.44,81.40 642.44,91.00" fill="#ff7f0e" stroke="#ff7f0e" stroke-width="1.0" fill-opacity="0.8" stroke-opacity="0.8" stroke-linejoin="miter"/>
<polygon points="694.32,74.50 684.72,69.70 684.72,79.30" fill="#ff7f0e" stroke="#ff7f0e" stroke-width="1.0" fill-opacity="0.8" stroke-opacity="0.8" stroke-linejoin="miter"/>
<polygon points="736.60,62.80 727.00,58.00 727.00,67.60" fill="#ff7f0e" stroke="#ff7f0e" stroke-width="1.0" fill-opacity="0.8" stroke-opacity="0.8" stroke-linejoin="miter"/>
<polygon points="778.88,52.00 769.28,47.20 769.28,56.80" fill="#ff7f0e" stroke="#ff7f0e" stroke-width="1.0" fill-opacity="0.8" stroke-opacity="0.8" stroke-linejoin="miter"/>
<polygon points="821.16,41.80 811.56,37.00 811.56,46.60" fill="#ff7f0e" stroke="#ff7f0e" stroke-width="1.0" fill-opacity="0.8" stroke-opacity="0.8" stroke-linejoin="miter"/>
<polygon points="863.44,33.60 853.84,28.80 853.84,38.40" fill="#ff7f0e" stroke="#ff7f0e" stroke-width="1.0" fill-opacity="0.8" stroke-opacity="0.8" stroke-linejoin="miter"/>
<path d="M520.40,17.90 L562.68,17.90 L604.96,17.90 L647.24,17.90 L689.52,17.90 L731.80,17.90 L774.08,17.90 L816.36,17.90 L858.64,17.90" fill="none" stroke="#9467bd" stroke-opacity="0.8" stroke-width="2.6" stroke-linejoin="round" stroke-linecap="butt"/>
<circle cx="520.40" cy="17.90" r="4.80" fill="#9467bd" stroke="#9467bd" stroke-width="1.0" fill-opacity="0.8" stroke-opacity="0.8"/>
<circle cx="562.68" cy="17.90" r="4.80" fill="#9467bd" stroke="#9467bd" stroke-width="1.0" fill-opacity="0.8" stroke-opacity="0.8"/>
<circle cx="604.96" cy="17.90" r="4.80" fill="#9467bd" stroke="#9467bd" stroke-width="1.0" fill-opacity="0.8" stroke-opacity="0.8"/>
<circle cx="647.24" cy="17.90" r="4.80" fill="#9467bd" stroke="#9467bd" stroke-width="1.0" fill-opacity="0.8" stroke-opacity="0.8"/>
<circle cx="689.52" cy="17.90" r="4.80" fill="#9467bd" stroke="#9467bd" stroke-width="1.0" fill-opacity="0.8" stroke-opacity="0.8"/>
<circle cx="731.80" cy="17.90" r="4.80" fill="#9467bd" stroke="#9467bd" stroke-width="1.0" fill-opacity="0.8" stroke-opacity="0.8"/>
<circle cx="774.08" cy="17.90" r="4.80" fill="#9467bd" stroke="#9467bd" stroke-width="1.0" fill-opacity="0.8" stroke-opacity="0.8"/>
<circle cx="816.36" cy="17.90" r="4.80" fill="#9467bd" stroke="#9467bd" stroke-width="1.0" fill-opacity="0.8" stroke-opacity="0.8"/>
<circle cx="858.64" cy="17.90" r="4.80" fill="#9467bd" stroke="#9467bd" stroke-width="1.0" fill-opacity="0.8" stroke-opacity="0.8"/>
<rect x="503.70" y="5.50" width="371.80" height="271.20" fill="none" stroke="#555" stroke-width="1.1"/>
<line x1="520.40" y1="276.70" x2="520.40" y2="279.90" stroke="#555" stroke-width="1"/>
<text x="510.10" y="294.00" font-family='"Liberation Sans", sans-serif' font-size="14.8" textLength="9.03" lengthAdjust="spacingAndGlyphs" fill="#1a1a1a">2</text>
<text x="518.60" y="289.10" font-family='"Liberation Sans", sans-serif' font-size="10.0" textLength="12.72" lengthAdjust="spacingAndGlyphs" fill="#1a1a1a">10</text>
<line x1="562.68" y1="276.70" x2="562.68" y2="279.90" stroke="#555" stroke-width="1"/>
<text x="552.38" y="294.00" font-family='"Liberation Sans", sans-serif' font-size="14.8" textLength="9.03" lengthAdjust="spacingAndGlyphs" fill="#1a1a1a">2</text>
<text x="560.88" y="289.10" font-family='"Liberation Sans", sans-serif' font-size="10.0" textLength="12.72" lengthAdjust="spacingAndGlyphs" fill="#1a1a1a">11</text>
<line x1="604.96" y1="276.70" x2="604.96" y2="279.90" stroke="#555" stroke-width="1"/>
<text x="594.66" y="294.00" font-family='"Liberation Sans", sans-serif' font-size="14.8" textLength="9.03" lengthAdjust="spacingAndGlyphs" fill="#1a1a1a">2</text>
<text x="603.16" y="289.10" font-family='"Liberation Sans", sans-serif' font-size="10.0" textLength="12.72" lengthAdjust="spacingAndGlyphs" fill="#1a1a1a">12</text>
<line x1="647.24" y1="276.70" x2="647.24" y2="279.90" stroke="#555" stroke-width="1"/>
<text x="636.94" y="294.00" font-family='"Liberation Sans", sans-serif' font-size="14.8" textLength="9.03" lengthAdjust="spacingAndGlyphs" fill="#1a1a1a">2</text>
<text x="645.44" y="289.10" font-family='"Liberation Sans", sans-serif' font-size="10.0" textLength="12.72" lengthAdjust="spacingAndGlyphs" fill="#1a1a1a">13</text>
<line x1="689.52" y1="276.70" x2="689.52" y2="279.90" stroke="#555" stroke-width="1"/>
<text x="679.22" y="294.00" font-family='"Liberation Sans", sans-serif' font-size="14.8" textLength="9.03" lengthAdjust="spacingAndGlyphs" fill="#1a1a1a">2</text>
<text x="687.72" y="289.10" font-family='"Liberation Sans", sans-serif' font-size="10.0" textLength="12.72" lengthAdjust="spacingAndGlyphs" fill="#1a1a1a">14</text>
<line x1="731.80" y1="276.70" x2="731.80" y2="279.90" stroke="#555" stroke-width="1"/>
<text x="721.50" y="294.00" font-family='"Liberation Sans", sans-serif' font-size="14.8" textLength="9.03" lengthAdjust="spacingAndGlyphs" fill="#1a1a1a">2</text>
<text x="730.00" y="289.10" font-family='"Liberation Sans", sans-serif' font-size="10.0" textLength="12.72" lengthAdjust="spacingAndGlyphs" fill="#1a1a1a">15</text>
<line x1="774.08" y1="276.70" x2="774.08" y2="279.90" stroke="#555" stroke-width="1"/>
<text x="763.78" y="294.00" font-family='"Liberation Sans", sans-serif' font-size="14.8" textLength="9.03" lengthAdjust="spacingAndGlyphs" fill="#1a1a1a">2</text>
<text x="772.28" y="289.10" font-family='"Liberation Sans", sans-serif' font-size="10.0" textLength="12.72" lengthAdjust="spacingAndGlyphs" fill="#1a1a1a">16</text>
<line x1="816.36" y1="276.70" x2="816.36" y2="279.90" stroke="#555" stroke-width="1"/>
<text x="806.06" y="294.00" font-family='"Liberation Sans", sans-serif' font-size="14.8" textLength="9.03" lengthAdjust="spacingAndGlyphs" fill="#1a1a1a">2</text>
<text x="814.56" y="289.10" font-family='"Liberation Sans", sans-serif' font-size="10.0" textLength="12.72" lengthAdjust="spacingAndGlyphs" fill="#1a1a1a">17</text>
<line x1="858.64" y1="276.70" x2="858.64" y2="279.90" stroke="#555" stroke-width="1"/>
<text x="848.34" y="294.00" font-family='"Liberation Sans", sans-serif' font-size="14.8" textLength="9.03" lengthAdjust="spacingAndGlyphs" fill="#1a1a1a">2</text>
<text x="856.84" y="289.10" font-family='"Liberation Sans", sans-serif' font-size="10.0" textLength="12.72" lengthAdjust="spacingAndGlyphs" fill="#1a1a1a">18</text>
<line x1="500.50" y1="269.50" x2="503.70" y2="269.50" stroke="#555" stroke-width="1"/>
<text x="498.50" y="275.00" font-family='"Liberation Sans", sans-serif' font-size="14.0" text-anchor="end" textLength="20.03" lengthAdjust="spacingAndGlyphs" fill="#1a1a1a">0.4</text>
<line x1="500.50" y1="233.93" x2="503.70" y2="233.93" stroke="#555" stroke-width="1"/>
<text x="498.50" y="239.43" font-family='"Liberation Sans", sans-serif' font-size="14.0" text-anchor="end" textLength="20.03" lengthAdjust="spacingAndGlyphs" fill="#1a1a1a">0.5</text>
<line x1="500.50" y1="198.36" x2="503.70" y2="198.36" stroke="#555" stroke-width="1"/>
<text x="498.50" y="203.86" font-family='"Liberation Sans", sans-serif' font-size="14.0" text-anchor="end" textLength="20.03" lengthAdjust="spacingAndGlyphs" fill="#1a1a1a">0.6</text>
<line x1="500.50" y1="162.79" x2="503.70" y2="162.79" stroke="#555" stroke-width="1"/>
<text x="498.50" y="168.29" font-family='"Liberation Sans", sans-serif' font-size="14.0" text-anchor="end" textLength="20.03" lengthAdjust="spacingAndGlyphs" fill="#1a1a1a">0.7</text>
<line x1="500.50" y1="127.22" x2="503.70" y2="127.22" stroke="#555" stroke-width="1"/>
<text x="498.50" y="132.72" font-family='"Liberation Sans", sans-serif' font-size="14.0" text-anchor="end" textLength="20.03" lengthAdjust="spacingAndGlyphs" fill="#1a1a1a">0.8</text>
<line x1="500.50" y1="91.65" x2="503.70" y2="91.65" stroke="#555" stroke-width="1"/>
<text x="498.50" y="97.15" font-family='"Liberation Sans", sans-serif' font-size="14.0" text-anchor="end" textLength="20.03" lengthAdjust="spacingAndGlyphs" fill="#1a1a1a">0.9</text>
<line x1="500.50" y1="56.08" x2="503.70" y2="56.08" stroke="#555" stroke-width="1"/>
<text x="498.50" y="61.58" font-family='"Liberation Sans", sans-serif' font-size="14.0" text-anchor="end" textLength="20.03" lengthAdjust="spacingAndGlyphs" fill="#1a1a1a">1.0</text>
<line x1="500.50" y1="20.51" x2="503.70" y2="20.51" stroke="#555" stroke-width="1"/>
<text x="498.50" y="26.01" font-family='"Liberation Sans", sans-serif' font-size="14.0" text-anchor="end" textLength="20.03" lengthAdjust="spacingAndGlyphs" fill="#1a1a1a">1.1</text>
<text x="689.60" y="314.50" font-family='"Liberation Sans", sans-serif' font-size="17.6" text-anchor="middle" textLength="86.73" lengthAdjust="spacingAndGlyphs" fill="#1a1a1a">Batch size</text>
<g transform="translate(471.80,142.80) rotate(-90)"><text x="0.80" y="0.00" font-family='"Liberation Serif", serif' font-size="21" font-style="italic" text-anchor="middle" fill="#1a1a1a">σ</text></g>
<rect x="678.60" y="84.00" width="168.40" height="108.50" rx="3" ry="3" fill="#ffffff" fill-opacity="0.8" stroke="#d8d8d8" stroke-width="1"/>
<line x1="682.60" y1="94.50" x2="711.30" y2="94.50" stroke="#1f77b4" stroke-opacity="0.8" stroke-width="2.6"/>
<polygon points="696.95,89.70 692.15,99.30 701.75,99.30" fill="#1f77b4" stroke="#1f77b4" stroke-width="1.0" fill-opacity="0.8" stroke-opacity="0.8" stroke-linejoin="miter"/>
<g transform="translate(721.30,90.61) scale(0.9028)" fill="none" stroke="#1a1a1a" stroke-linecap="round"><path d="M0,1.9 C1,0.6 2.5,0.3 4.6,0.3" stroke-width="1.1"/><path d="M4.6,0.3 C8,0.3 11,0.7 11,2.8 C11,4.8 8.3,6 5.8,6" stroke-width="1.35"/><path d="M4.8,0.6 C4.4,3.5 3.2,7.5 1.2,10" stroke-width="1.9"/></g>
<text x="734.51" y="98.92" font-family='"Liberation Sans", sans-serif' font-size="13.0" textLength="28.47" lengthAdjust="spacingAndGlyphs" fill="#1a1a1a">(UB)</text>
<line x1="682.60" y1="116.30" x2="711.30" y2="116.30" stroke="#2ca02c" stroke-opacity="0.8" stroke-width="2.6"/>
<polygon points="696.95,121.10 692.15,111.50 701.75,111.50" fill="#2ca02c" stroke="#2ca02c" stroke-width="1.0" fill-opacity="0.8" stroke-opacity="0.8" stroke-linejoin="miter"/>
<g transform="translate(721.30,111.69) scale(0.9028)" fill="none" stroke="#1a1a1a" stroke-linecap="round"><path d="M8.8,2.5 C8.2,1.2 6.7,0.9 5.3,1.0 C3.6,1.2 2.8,2.3 3.3,3.7" stroke-width="1.0"/><path d="M3.3,3.7 C4,5.1 7.6,6 8.1,7.8" stroke-width="1.8"/><path d="M8.1,7.8 C8.6,9.5 6.8,10.4 4.8,10.4 C2.6,10.4 1,9.8 0.1,8.4" stroke-width="1.1"/></g>
<g transform="translate(732.22,109.16) scale(0.9028)"><path d="M5.4,0.9 A2.8,2.8 0 1 1 1.9,1.6" fill="none" stroke="#1a1a1a" stroke-width="1.05"/><path d="M0.0,0.2 L3.4,0.8 L1.3,3.6 Z" fill="#1a1a1a"/></g>
<text x="745.71" y="120.72" font-family='"Liberation Sans", sans-serif' font-size="13.0" textLength="5.44" lengthAdjust="spacingAndGlyphs" fill="#1a1a1a">(</text>
<g transform="translate(751.46,112.41) scale(0.9028)" fill="none" stroke="#1a1a1a" stroke-linecap="round"><path d="M0,1.9 C1,0.6 2.5,0.3 4.6,0.3" stroke-width="1.1"/><path d="M4.6,0.3 C8,0.3 11,0.7 11,2.8 C11,4.8 8.3,6 5.8,6" stroke-width="1.35"/><path d="M4.8,0.6 C4.4,3.5 3.2,7.5 1.2,10" stroke-width="1.9"/></g>
<text x="764.48" y="120.72" font-family='"Liberation Sans", sans-serif' font-size="13.0" textLength="79.88" lengthAdjust="spacingAndGlyphs" fill="#1a1a1a">accounting)</text>
<line x1="682.60" y1="139.00" x2="711.30" y2="139.00" stroke="#d62728" stroke-opacity="0.8" stroke-width="2.6"/>
<polygon points="692.15,139.00 701.75,134.20 701.75,143.80" fill="#d62728" stroke="#d62728" stroke-width="1.0" fill-opacity="0.8" stroke-opacity="0.8" stroke-linejoin="miter"/>
<g transform="translate(721.30,134.39) scale(0.9028)" fill="none" stroke="#1a1a1a" stroke-linecap="round"><path d="M8.8,2.5 C8.2,1.2 6.7,0.9 5.3,1.0 C3.6,1.2 2.8,2.3 3.3,3.7" stroke-width="1.0"/><path d="M3.3,3.7 C4,5.1 7.6,6 8.1,7.8" stroke-width="1.8"/><path d="M8.1,7.8 C8.6,9.5 6.8,10.4 4.8,10.4 C2.6,10.4 1,9.8 0.1,8.4" stroke-width="1.1"/></g>
<g transform="translate(732.22,131.86) scale(0.9028)"><path d="M5.4,0.9 A2.8,2.8 0 1 1 1.9,1.6" fill="none" stroke="#1a1a1a" stroke-width="1.05"/><path d="M0.0,0.2 L3.4,0.8 L1.3,3.6 Z" fill="#1a1a1a"/></g>
<text x="745.07" y="143.42" font-family='"Liberation Sans", sans-serif' font-size="13.0" textLength="26.88" lengthAdjust="spacingAndGlyphs" fill="#1a1a1a">(LB)</text>
<line x1="682.60" y1="159.80" x2="711.30" y2="159.80" stroke="#ff7f0e" stroke-opacity="0.8" stroke-width="2.6"/>
<polygon points="701.75,159.80 692.15,155.00 692.15,164.60" fill="#ff7f0e" stroke="#ff7f0e" stroke-width="1.0" fill-opacity="0.8" stroke-opacity="0.8" stroke-linejoin="miter"/>
<g transform="translate(721.30,155.19) scale(0.9028)" fill="none" stroke="#1a1a1a" stroke-linecap="round"><path d="M8.8,2.5 C8.2,1.2 6.7,0.9 5.3,1.0 C3.6,1.2 2.8,2.3 3.3,3.7" stroke-width="1.0"/><path d="M3.3,3.7 C4,5.1 7.6,6 8.1,7.8" stroke-width="1.8"/><path d="M8.1,7.8 C8.6,9.5 6.8,10.4 4.8,10.4 C2.6,10.4 1,9.8 0.1,8.4" stroke-width="1.1"/></g>
<path d="M732.48,154.83 L734.28,156.64 L732.48,158.44 L730.67,156.64 Z" fill="none" stroke="#1a1a1a" stroke-width="0.90"/>
<text x="740.02" y="164.22" font-family='"Liberation Sans", sans-serif' font-size="13.0" textLength="26.34" lengthAdjust="spacingAndGlyphs" fill="#1a1a1a">(LB)</text>
<line x1="682.60" y1="179.80" x2="711.30" y2="179.80" stroke="#9467bd" stroke-opacity="0.8" stroke-width="2.6"/>
<circle cx="696.95" cy="179.80" r="4.80" fill="#9467bd" stroke="#9467bd" stroke-width="1.0" fill-opacity="0.8" stroke-opacity="0.8"/>
<g transform="translate(721.30,175.91) scale(0.9028)" fill="none" stroke="#1a1a1a" stroke-linecap="round"><path d="M0.3,1.5 C1.5,0.6 3,0.3 5,0.3" stroke-width="1.1"/><path d="M5,0.3 C9,0.3 11.3,1.9 11.3,4.6 C11.3,8 8,10 4.5,10 L0.8,10" stroke-width="1.4"/><path d="M4.4,0.7 C4,4 3,7.5 1.8,9.8" stroke-width="1.9"/></g>
<text x="736.40" y="184.22" font-family='"Liberation Sans", sans-serif' font-size="13.0" textLength="57.52" lengthAdjust="spacingAndGlyphs" fill="#1a1a1a">(~Exact)</text>
</g>
<g>
<path d="M1237.30,126.00 L1279.45,169.00 L1321.60,248.00 L1321.60,264.00 L1279.45,177.00 L1237.30,131.00 Z" fill="#1f77b4" fill-opacity="0.2" stroke="none"/>
<path d="M1195.15,77.00 L1237.30,109.00 L1279.45,157.00 L1321.60,244.00 L1321.60,254.00 L1279.45,164.00 L1237.30,115.00 L1195.15,82.00 Z" fill="#ff7f0e" fill-opacity="0.2" stroke="none"/>
<path d="M984.40,58.30 L1026.55,65.40 L1068.70,67.90 L1110.85,72.30 L1153.00,82.50 L1195.15,99.60 L1237.30,128.20 L1279.45,172.80 L1321.60,254.40" fill="none" stroke="#1f77b4" stroke-opacity="1.0" stroke-width="2.6" stroke-linejoin="round" stroke-linecap="butt"/>
<polygon points="984.40,53.50 979.60,63.10 989.20,63.10" fill="#1f77b4" stroke="#1f77b4" stroke-width="1.0" fill-opacity="1.0" stroke-opacity="1.0" stroke-linejoin="miter"/>
<polygon points="1026.55,60.60 1021.75,70.20 1031.35,70.20" fill="#1f77b4" stroke="#1f77b4" stroke-width="1.0" fill-opacity="1.0" stroke-opacity="1.0" stroke-linejoin="miter"/>
<polygon points="1068.70,63.10 1063.90,72.70 1073.50,72.70" fill="#1f77b4" stroke="#1f77b4" stroke-width="1.0" fill-opacity="1.0" stroke-opacity="1.0" stroke-linejoin="miter"/>
<polygon points="1110.85,67.50 1106.05,77.10 1115.65,77.10" fill="#1f77b4" stroke="#1f77b4" stroke-width="1.0" fill-opacity="1.0" stroke-opacity="1.0" stroke-linejoin="miter"/>
<polygon points="1153.00,77.70 1148.20,87.30 1157.80,87.30" fill="#1f77b4" stroke="#1f77b4" stroke-width="1.0" fill-opacity="1.0" stroke-opacity="1.0" stroke-linejoin="miter"/>
<polygon points="1195.15,94.80 1190.35,104.40 1199.95,104.40" fill="#1f77b4" stroke="#1f77b4" stroke-width="1.0" fill-opacity="1.0" stroke-opacity="1.0" stroke-linejoin="miter"/>
<polygon points="1237.30,123.40 1232.50,133.00 1242.10,133.00" fill="#1f77b4" stroke="#1f77b4" stroke-width="1.0" fill-opacity="1.0" stroke-opacity="1.0" stroke-linejoin="miter"/>
<polygon points="1279.45,168.00 1274.65,177.60 1284.25,177.60" fill="#1f77b4" stroke="#1f77b4" stroke-width="1.0" fill-opacity="1.0" stroke-opacity="1.0" stroke-linejoin="miter"/>
<polygon points="1321.60,249.60 1316.80,259.20 1326.40,259.20" fill="#1f77b4" stroke="#1f77b4" stroke-width="1.0" fill-opacity="1.0" stroke-opacity="1.0" stroke-linejoin="miter"/>
<path d="M984.40,19.30 L1026.55,20.00 L1068.70,26.20 L1110.85,38.00 L1153.00,56.30 L1195.15,78.80 L1237.30,111.50 L1279.45,160.00 L1321.60,249.00" fill="none" stroke="#d62728" stroke-opacity="1.0" stroke-width="2.6" stroke-linejoin="round" stroke-linecap="butt"/>
<polygon points="979.60,19.30 989.20,14.50 989.20,24.10" fill="#d62728" stroke="#d62728" stroke-width="1.0" fill-opacity="1.0" stroke-opacity="1.0" stroke-linejoin="miter"/>
<polygon points="1021.75,20.00 1031.35,15.20 1031.35,24.80" fill="#d62728" stroke="#d62728" stroke-width="1.0" fill-opacity="1.0" stroke-opacity="1.0" stroke-linejoin="miter"/>
<polygon points="1063.90,26.20 1073.50,21.40 1073.50,31.00" fill="#d62728" stroke="#d62728" stroke-width="1.0" fill-opacity="1.0" stroke-opacity="1.0" stroke-linejoin="miter"/>
<polygon points="1106.05,38.00 1115.65,33.20 1115.65,42.80" fill="#d62728" stroke="#d62728" stroke-width="1.0" fill-opacity="1.0" stroke-opacity="1.0" stroke-linejoin="miter"/>
<polygon points="1148.20,56.30 1157.80,51.50 1157.80,61.10" fill="#d62728" stroke="#d62728" stroke-width="1.0" fill-opacity="1.0" stroke-opacity="1.0" stroke-linejoin="miter"/>
<polygon points="1190.35,78.80 1199.95,74.00 1199.95,83.60" fill="#d62728" stroke="#d62728" stroke-width="1.0" fill-opacity="1.0" stroke-opacity="1.0" stroke-linejoin="miter"/>
<polygon points="1232.50,111.50 1242.10,106.70 1242.10,116.30" fill="#d62728" stroke="#d62728" stroke-width="1.0" fill-opacity="1.0" stroke-opacity="1.0" stroke-linejoin="miter"/>
<polygon points="1274.65,160.00 1284.25,155.20 1284.25,164.80" fill="#d62728" stroke="#d62728" stroke-width="1.0" fill-opacity="1.0" stroke-opacity="1.0" stroke-linejoin="miter"/>
<polygon points="1316.80,249.00 1326.40,244.20 1326.40,253.80" fill="#d62728" stroke="#d62728" stroke-width="1.0" fill-opacity="1.0" stroke-opacity="1.0" stroke-linejoin="miter"/>
<path d="M984.40,19.30 L1026.55,20.30 L1068.70,26.90 L1110.85,38.70 L1153.00,57.10 L1195.15,79.60 L1237.30,112.30 L1279.45,160.60 L1321.60,249.20" fill="none" stroke="#ff7f0e" stroke-opacity="1.0" stroke-width="2.6" stroke-linejoin="round" stroke-linecap="butt"/>
<polygon points="989.20,19.30 979.60,14.50 979.60,24.10" fill="#ff7f0e" stroke="#ff7f0e" stroke-width="1.0" fill-opacity="1.0" stroke-opacity="1.0" stroke-linejoin="miter"/>
<polygon points="1031.35,20.30 1021.75,15.50 1021.75,25.10" fill="#ff7f0e" stroke="#ff7f0e" stroke-width="1.0" fill-opacity="1.0" stroke-opacity="1.0" stroke-linejoin="miter"/>
<polygon points="1073.50,26.90 1063.90,22.10 1063.90,31.70" fill="#ff7f0e" stroke="#ff7f0e" stroke-width="1.0" fill-opacity="1.0" stroke-opacity="1.0" stroke-linejoin="miter"/>
<polygon points="1115.65,38.70 1106.05,33.90 1106.05,43.50" fill="#ff7f0e" stroke="#ff7f0e" stroke-width="1.0" fill-opacity="1.0" stroke-opacity="1.0" stroke-linejoin="miter"/>
<polygon points="1157.80,57.10 1148.20,52.30 1148.20,61.90" fill="#ff7f0e" stroke="#ff7f0e" stroke-width="1.0" fill-opacity="1.0" stroke-opacity="1.0" stroke-linejoin="miter"/>
<polygon points="1199.95,79.60 1190.35,74.80 1190.35,84.40" fill="#ff7f0e" stroke="#ff7f0e" stroke-width="1.0" fill-opacity="1.0" stroke-opacity="1.0" stroke-linejoin="miter"/>
<polygon points="1242.10,112.30 1232.50,107.50 1232.50,117.10" fill="#ff7f0e" stroke="#ff7f0e" stroke-width="1.0" fill-opacity="1.0" stroke-opacity="1.0" stroke-linejoin="miter"/>
<polygon points="1284.25,160.60 1274.65,155.80 1274.65,165.40" fill="#ff7f0e" stroke="#ff7f0e" stroke-width="1.0" fill-opacity="1.0" stroke-opacity="1.0" stroke-linejoin="miter"/>
<polygon points="1326.40,249.20 1316.80,244.40 1316.80,254.00" fill="#ff7f0e" stroke="#ff7f0e" stroke-width="1.0" fill-opacity="1.0" stroke-opacity="1.0" stroke-linejoin="miter"/>
<rect x="967.50" y="5.50" width="371.00" height="270.90" fill="none" stroke="#555" stroke-width="1.1"/>
<line x1="984.40" y1="276.40" x2="984.40" y2="279.60" stroke="#555" stroke-width="1"/>
<text x="974.10" y="293.70" font-family='"Liberation Sans", sans-serif' font-size="14.8" textLength="9.03" lengthAdjust="spacingAndGlyphs" fill="#1a1a1a">2</text>
<text x="982.60" y="288.80" font-family='"Liberation Sans", sans-serif' font-size="10.0" textLength="12.72" lengthAdjust="spacingAndGlyphs" fill="#1a1a1a">10</text>
<line x1="1026.55" y1="276.40" x2="1026.55" y2="279.60" stroke="#555" stroke-width="1"/>
<text x="1016.25" y="293.70" font-family='"Liberation Sans", sans-serif' font-size="14.8" textLength="9.03" lengthAdjust="spacingAndGlyphs" fill="#1a1a1a">2</text>
<text x="1024.75" y="288.80" font-family='"Liberation Sans", sans-serif' font-size="10.0" textLength="12.72" lengthAdjust="spacingAndGlyphs" fill="#1a1a1a">11</text>
<line x1="1068.70" y1="276.40" x2="1068.70" y2="279.60" stroke="#555" stroke-width="1"/>
<text x="1058.40" y="293.70" font-family='"Liberation Sans", sans-serif' font-size="14.8" textLength="9.03" lengthAdjust="spacingAndGlyphs" fill="#1a1a1a">2</text>
<text x="1066.90" y="288.80" font-family='"Liberation Sans", sans-serif' font-size="10.0" textLength="12.72" lengthAdjust="spacingAndGlyphs" fill="#1a1a1a">12</text>
<line x1="1110.85" y1="276.40" x2="1110.85" y2="279.60" stroke="#555" stroke-width="1"/>
<text x="1100.55" y="293.70" font-family='"Liberation Sans", sans-serif' font-size="14.8" textLength="9.03" lengthAdjust="spacingAndGlyphs" fill="#1a1a1a">2</text>
<text x="1109.05" y="288.80" font-family='"Liberation Sans", sans-serif' font-size="10.0" textLength="12.72" lengthAdjust="spacingAndGlyphs" fill="#1a1a1a">13</text>
<line x1="1153.00" y1="276.40" x2="1153.00" y2="279.60" stroke="#555" stroke-width="1"/>
<text x="1142.70" y="293.70" font-family='"Liberation Sans", sans-serif' font-size="14.8" textLength="9.03" lengthAdjust="spacingAndGlyphs" fill="#1a1a1a">2</text>
<text x="1151.20" y="288.80" font-family='"Liberation Sans", sans-serif' font-size="10.0" textLength="12.72" lengthAdjust="spacingAndGlyphs" fill="#1a1a1a">14</text>
<line x1="1195.15" y1="276.40" x2="1195.15" y2="279.60" stroke="#555" stroke-width="1"/>
<text x="1184.85" y="293.70" font-family='"Liberation Sans", sans-serif' font-size="14.8" textLength="9.03" lengthAdjust="spacingAndGlyphs" fill="#1a1a1a">2</text>
<text x="1193.35" y="288.80" font-family='"Liberation Sans", sans-serif' font-size="10.0" textLength="12.72" lengthAdjust="spacingAndGlyphs" fill="#1a1a1a">15</text>
<line x1="1237.30" y1="276.40" x2="1237.30" y2="279.60" stroke="#555" stroke-width="1"/>
<text x="1227.00" y="293.70" font-family='"Liberation Sans", sans-serif' font-size="14.8" textLength="9.03" lengthAdjust="spacingAndGlyphs" fill="#1a1a1a">2</text>
<text x="1235.50" y="288.80" font-family='"Liberation Sans", sans-serif' font-size="10.0" textLength="12.72" lengthAdjust="spacingAndGlyphs" fill="#1a1a1a">16</text>
<line x1="1279.45" y1="276.40" x2="1279.45" y2="279.60" stroke="#555" stroke-width="1"/>
<text x="1269.15" y="293.70" font-family='"Liberation Sans", sans-serif' font-size="14.8" textLength="9.03" lengthAdjust="spacingAndGlyphs" fill="#1a1a1a">2</text>
<text x="1277.65" y="288.80" font-family='"Liberation Sans", sans-serif' font-size="10.0" textLength="12.72" lengthAdjust="spacingAndGlyphs" fill="#1a1a1a">17</text>
<line x1="1321.60" y1="276.40" x2="1321.60" y2="279.60" stroke="#555" stroke-width="1"/>
<text x="1311.30" y="293.70" font-family='"Liberation Sans", sans-serif' font-size="14.8" textLength="9.03" lengthAdjust="spacingAndGlyphs" fill="#1a1a1a">2</text>
<text x="1319.80" y="288.80" font-family='"Liberation Sans", sans-serif' font-size="10.0" textLength="12.72" lengthAdjust="spacingAndGlyphs" fill="#1a1a1a">18</text>
<line x1="964.30" y1="267.50" x2="967.50" y2="267.50" stroke="#555" stroke-width="1"/>
<text x="962.30" y="273.00" font-family='"Liberation Sans", sans-serif' font-size="14.0" text-anchor="end" textLength="44.07" lengthAdjust="spacingAndGlyphs" fill="#1a1a1a">0.7875</text>
<line x1="964.30" y1="235.74" x2="967.50" y2="235.74" stroke="#555" stroke-width="1"/>
<text x="962.30" y="241.24" font-family='"Liberation Sans", sans-serif' font-size="14.0" text-anchor="end" textLength="44.07" lengthAdjust="spacingAndGlyphs" fill="#1a1a1a">0.7900</text>
<line x1="964.30" y1="203.98" x2="967.50" y2="203.98" stroke="#555" stroke-width="1"/>
<text x="962.30" y="209.48" font-family='"Liberation Sans", sans-serif' font-size="14.0" text-anchor="end" textLength="44.07" lengthAdjust="spacingAndGlyphs" fill="#1a1a1a">0.7925</text>
<line x1="964.30" y1="172.22" x2="967.50" y2="172.22" stroke="#555" stroke-width="1"/>
<text x="962.30" y="177.72" font-family='"Liberation Sans", sans-serif' font-size="14.0" text-anchor="end" textLength="44.07" lengthAdjust="spacingAndGlyphs" fill="#1a1a1a">0.7950</text>
<line x1="964.30" y1="140.46" x2="967.50" y2="140.46" stroke="#555" stroke-width="1"/>
<text x="962.30" y="145.96" font-family='"Liberation Sans", sans-serif' font-size="14.0" text-anchor="end" textLength="44.07" lengthAdjust="spacingAndGlyphs" fill="#1a1a1a">0.7975</text>
<line x1="964.30" y1="108.70" x2="967.50" y2="108.70" stroke="#555" stroke-width="1"/>
<text x="962.30" y="114.20" font-family='"Liberation Sans", sans-serif' font-size="14.0" text-anchor="end" textLength="44.07" lengthAdjust="spacingAndGlyphs" fill="#1a1a1a">0.8000</text>
<line x1="964.30" y1="76.94" x2="967.50" y2="76.94" stroke="#555" stroke-width="1"/>
<text x="962.30" y="82.44" font-family='"Liberation Sans", sans-serif' font-size="14.0" text-anchor="end" textLength="44.07" lengthAdjust="spacingAndGlyphs" fill="#1a1a1a">0.8025</text>
<line x1="964.30" y1="45.18" x2="967.50" y2="45.18" stroke="#555" stroke-width="1"/>
<text x="962.30" y="50.68" font-family='"Liberation Sans", sans-serif' font-size="14.0" text-anchor="end" textLength="44.07" lengthAdjust="spacingAndGlyphs" fill="#1a1a1a">0.8050</text>
<line x1="964.30" y1="13.42" x2="967.50" y2="13.42" stroke="#555" stroke-width="1"/>
<text x="962.30" y="18.92" font-family='"Liberation Sans", sans-serif' font-size="14.0" text-anchor="end" textLength="44.07" lengthAdjust="spacingAndGlyphs" fill="#1a1a1a">0.8075</text>
<text x="1153.00" y="314.20" font-family='"Liberation Sans", sans-serif' font-size="17.6" text-anchor="middle" textLength="86.73" lengthAdjust="spacingAndGlyphs" fill="#1a1a1a">Batch size</text>
<g transform="translate(911.20,142.00) rotate(-90)"><text x="0.00" y="0.00" font-family='"Liberation Sans", sans-serif' font-size="17.6" text-anchor="middle" textLength="35.73" lengthAdjust="spacingAndGlyphs" fill="#1a1a1a">AUC</text></g>
<rect x="1256.90" y="12.80" width="73.70" height="70.20" rx="3" ry="3" fill="#ffffff" fill-opacity="0.8" stroke="#d8d8d8" stroke-width="1"/>
<line x1="1262.20" y1="25.40" x2="1294.20" y2="25.40" stroke="#1f77b4" stroke-opacity="1.0" stroke-width="2.6"/>
<polygon points="1278.20,20.60 1273.40,30.20 1283.00,30.20" fill="#1f77b4" stroke="#1f77b4" stroke-width="1.0" fill-opacity="1.0" stroke-opacity="1.0" stroke-linejoin="miter"/>
<g transform="translate(1305.50,21.10) scale(1.0000)" fill="none" stroke="#1a1a1a" stroke-linecap="round"><path d="M0,1.9 C1,0.6 2.5,0.3 4.6,0.3" stroke-width="1.1"/><path d="M4.6,0.3 C8,0.3 11,0.7 11,2.8 C11,4.8 8.3,6 5.8,6" stroke-width="1.35"/><path d="M4.8,0.6 C4.4,3.5 3.2,7.5 1.2,10" stroke-width="1.9"/></g>
<line x1="1262.20" y1="47.50" x2="1294.20" y2="47.50" stroke="#d62728" stroke-opacity="1.0" stroke-width="2.6"/>
<polygon points="1273.40,47.50 1283.00,42.70 1283.00,52.30" fill="#d62728" stroke="#d62728" stroke-width="1.0" fill-opacity="1.0" stroke-opacity="1.0" stroke-linejoin="miter"/>
<g transform="translate(1305.50,42.40) scale(1.0000)" fill="none" stroke="#1a1a1a" stroke-linecap="round"><path d="M8.8,2.5 C8.2,1.2 6.7,0.9 5.3,1.0 C3.6,1.2 2.8,2.3 3.3,3.7" stroke-width="1.0"/><path d="M3.3,3.7 C4,5.1 7.6,6 8.1,7.8" stroke-width="1.8"/><path d="M8.1,7.8 C8.6,9.5 6.8,10.4 4.8,10.4 C2.6,10.4 1,9.8 0.1,8.4" stroke-width="1.1"/></g>
<g transform="translate(1317.60,39.60) scale(1.0000)"><path d="M5.4,0.9 A2.8,2.8 0 1 1 1.9,1.6" fill="none" stroke="#1a1a1a" stroke-width="1.05"/><path d="M0.0,0.2 L3.4,0.8 L1.3,3.6 Z" fill="#1a1a1a"/></g>
<line x1="1262.20" y1="69.40" x2="1294.20" y2="69.40" stroke="#ff7f0e" stroke-opacity="1.0" stroke-width="2.6"/>
<polygon points="1283.00,69.40 1273.40,64.60 1273.40,74.20" fill="#ff7f0e" stroke="#ff7f0e" stroke-width="1.0" fill-opacity="1.0" stroke-opacity="1.0" stroke-linejoin="miter"/>
<g transform="translate(1305.50,64.30) scale(1.0000)" fill="none" stroke="#1a1a1a" stroke-linecap="round"><path d="M8.8,2.5 C8.2,1.2 6.7,0.9 5.3,1.0 C3.6,1.2 2.8,2.3 3.3,3.7" stroke-width="1.0"/><path d="M3.3,3.7 C4,5.1 7.6,6 8.1,7.8" stroke-width="1.8"/><path d="M8.1,7.8 C8.6,9.5 6.8,10.4 4.8,10.4 C2.6,10.4 1,9.8 0.1,8.4" stroke-width="1.1"/></g>
<path d="M1317.88,63.90 L1319.88,65.90 L1317.88,67.90 L1315.88,65.90 Z" fill="none" stroke="#1a1a1a" stroke-width="1.00"/>
</g>
<g>
<path d="M79.60,454.50 L121.81,430.50 L164.02,404.00 L164.02,409.50 L121.81,438.00 L79.60,462.00 Z" fill="#2ca02c" fill-opacity="0.2" stroke="none"/>
<path d="M79.60,457.00 L121.81,434.00 L164.02,406.00 L164.02,412.00 L121.81,441.00 L79.60,464.00 Z" fill="#1f77b4" fill-opacity="0.15" stroke="none"/>
<path d="M79.60,575.00 L121.81,549.00 L164.02,512.00 L164.02,517.00 L121.81,556.00 L79.60,583.00 Z" fill="#ff7f0e" fill-opacity="0.15" stroke="none"/>
<path d="M79.60,592.00 L121.81,572.00 L121.81,578.00 L79.60,598.00 Z" fill="#9467bd" fill-opacity="0.15" stroke="none"/>
<path d="M79.60,460.80 L121.81,437.50 L164.02,409.50 L206.23,400.40 L248.44,397.20 L290.65,379.20 L332.86,358.60 L375.07,357.00 L417.28,353.80" fill="none" stroke="#1f77b4" stroke-opacity="1.0" stroke-width="2.5" stroke-linejoin="round" stroke-linecap="butt"/>
<polygon points="79.60,456.00 74.80,465.60 84.40,465.60" fill="#1f77b4" stroke="#1f77b4" stroke-width="1.0" fill-opacity="1.0" stroke-opacity="1.0" stroke-linejoin="miter"/>
<polygon points="121.81,432.70 117.01,442.30 126.61,442.30" fill="#1f77b4" stroke="#1f77b4" stroke-width="1.0" fill-opacity="1.0" stroke-opacity="1.0" stroke-linejoin="miter"/>
<polygon points="164.02,404.70 159.22,414.30 168.82,414.30" fill="#1f77b4" stroke="#1f77b4" stroke-width="1.0" fill-opacity="1.0" stroke-opacity="1.0" stroke-linejoin="miter"/>
<polygon points="206.23,395.60 201.43,405.20 211.03,405.20" fill="#1f77b4" stroke="#1f77b4" stroke-width="1.0" fill-opacity="1.0" stroke-opacity="1.0" stroke-linejoin="miter"/>
<polygon points="248.44,392.40 243.64,402.00 253.24,402.00" fill="#1f77b4" stroke="#1f77b4" stroke-width="1.0" fill-opacity="1.0" stroke-opacity="1.0" stroke-linejoin="miter"/>
<polygon points="290.65,374.40 285.85,384.00 295.45,384.00" fill="#1f77b4" stroke="#1f77b4" stroke-width="1.0" fill-opacity="1.0" stroke-opacity="1.0" stroke-linejoin="miter"/>
<polygon points="332.86,353.80 328.06,363.40 337.66,363.40" fill="#1f77b4" stroke="#1f77b4" stroke-width="1.0" fill-opacity="1.0" stroke-opacity="1.0" stroke-linejoin="miter"/>
<polygon points="375.07,352.20 370.27,361.80 379.87,361.80" fill="#1f77b4" stroke="#1f77b4" stroke-width="1.0" fill-opacity="1.0" stroke-opacity="1.0" stroke-linejoin="miter"/>
<polygon points="417.28,349.00 412.48,358.60 422.08,358.60" fill="#1f77b4" stroke="#1f77b4" stroke-width="1.0" fill-opacity="1.0" stroke-opacity="1.0" stroke-linejoin="miter"/>
<path d="M79.60,458.20 L121.81,434.30 L164.02,406.70 L206.23,396.80 L248.44,395.30 L290.65,378.10 L332.86,356.50 L375.07,355.30 L417.28,352.30" fill="none" stroke="#2ca02c" stroke-opacity="1.0" stroke-width="2.5" stroke-linejoin="round" stroke-linecap="butt"/>
<polygon points="79.60,463.00 74.80,453.40 84.40,453.40" fill="#2ca02c" stroke="#2ca02c" stroke-width="1.0" fill-opacity="1.0" stroke-opacity="1.0" stroke-linejoin="miter"/>
<polygon points="121.81,439.10 117.01,429.50 126.61,429.50" fill="#2ca02c" stroke="#2ca02c" stroke-width="1.0" fill-opacity="1.0" stroke-opacity="1.0" stroke-linejoin="miter"/>
<polygon points="164.02,411.50 159.22,401.90 168.82,401.90" fill="#2ca02c" stroke="#2ca02c" stroke-width="1.0" fill-opacity="1.0" stroke-opacity="1.0" stroke-linejoin="miter"/>
<polygon points="206.23,401.60 201.43,392.00 211.03,392.00" fill="#2ca02c" stroke="#2ca02c" stroke-width="1.0" fill-opacity="1.0" stroke-opacity="1.0" stroke-linejoin="miter"/>
<polygon points="248.44,400.10 243.64,390.50 253.24,390.50" fill="#2ca02c" stroke="#2ca02c" stroke-width="1.0" fill-opacity="1.0" stroke-opacity="1.0" stroke-linejoin="miter"/>
<polygon points="290.65,382.90 285.85,373.30 295.45,373.30" fill="#2ca02c" stroke="#2ca02c" stroke-width="1.0" fill-opacity="1.0" stroke-opacity="1.0" stroke-linejoin="miter"/>
<polygon points="332.86,361.30 328.06,351.70 337.66,351.70" fill="#2ca02c" stroke="#2ca02c" stroke-width="1.0" fill-opacity="1.0" stroke-opacity="1.0" stroke-linejoin="miter"/>
<polygon points="375.07,360.10 370.27,350.50 379.87,350.50" fill="#2ca02c" stroke="#2ca02c" stroke-width="1.0" fill-opacity="1.0" stroke-opacity="1.0" stroke-linejoin="miter"/>
<polygon points="417.28,357.10 412.48,347.50 422.08,347.50" fill="#2ca02c" stroke="#2ca02c" stroke-width="1.0" fill-opacity="1.0" stroke-opacity="1.0" stroke-linejoin="miter"/>
<path d="M79.60,522.60 L121.81,482.90 L164.02,456.50 L206.23,433.20 L248.44,431.50 L290.65,426.90 L332.86,387.00 L375.07,377.10 L417.28,370.70" fill="none" stroke="#d62728" stroke-opacity="1.0" stroke-width="2.5" stroke-linejoin="round" stroke-linecap="butt"/>
<polygon points="74.80,522.60 84.40,517.80 84.40,527.40" fill="#d62728" stroke="#d62728" stroke-width="1.0" fill-opacity="1.0" stroke-opacity="1.0" stroke-linejoin="miter"/>
<polygon points="117.01,482.90 126.61,478.10 126.61,487.70" fill="#d62728" stroke="#d62728" stroke-width="1.0" fill-opacity="1.0" stroke-opacity="1.0" stroke-linejoin="miter"/>
<polygon points="159.22,456.50 168.82,451.70 168.82,461.30" fill="#d62728" stroke="#d62728" stroke-width="1.0" fill-opacity="1.0" stroke-opacity="1.0" stroke-linejoin="miter"/>
<polygon points="201.43,433.20 211.03,428.40 211.03,438.00" fill="#d62728" stroke="#d62728" stroke-width="1.0" fill-opacity="1.0" stroke-opacity="1.0" stroke-linejoin="miter"/>
<polygon points="243.64,431.50 253.24,426.70 253.24,436.30" fill="#d62728" stroke="#d62728" stroke-width="1.0" fill-opacity="1.0" stroke-opacity="1.0" stroke-linejoin="miter"/>
<polygon points="285.85,426.90 295.45,422.10 295.45,431.70" fill="#d62728" stroke="#d62728" stroke-width="1.0" fill-opacity="1.0" stroke-opacity="1.0" stroke-linejoin="miter"/>
<polygon points="328.06,387.00 337.66,382.20 337.66,391.80" fill="#d62728" stroke="#d62728" stroke-width="1.0" fill-opacity="1.0" stroke-opacity="1.0" stroke-linejoin="miter"/>
<polygon points="370.27,377.10 379.87,372.30 379.87,381.90" fill="#d62728" stroke="#d62728" stroke-width="1.0" fill-opacity="1.0" stroke-opacity="1.0" stroke-linejoin="miter"/>
<polygon points="412.48,370.70 422.08,365.90 422.08,375.50" fill="#d62728" stroke="#d62728" stroke-width="1.0" fill-opacity="1.0" stroke-opacity="1.0" stroke-linejoin="miter"/>
<path d="M79.60,578.90 L121.81,552.30 L164.02,514.50 L206.23,490.80 L248.44,467.40 L290.65,468.60 L332.86,431.50 L375.07,404.60 L417.28,394.70" fill="none" stroke="#ff7f0e" stroke-opacity="1.0" stroke-width="2.5" stroke-linejoin="round" stroke-linecap="butt"/>
<polygon points="84.40,578.90 74.80,574.10 74.80,583.70" fill="#ff7f0e" stroke="#ff7f0e" stroke-width="1.0" fill-opacity="1.0" stroke-opacity="1.0" stroke-linejoin="miter"/>
<polygon points="126.61,552.30 117.01,547.50 117.01,557.10" fill="#ff7f0e" stroke="#ff7f0e" stroke-width="1.0" fill-opacity="1.0" stroke-opacity="1.0" stroke-linejoin="miter"/>
<polygon points="168.82,514.50 159.22,509.70 159.22,519.30" fill="#ff7f0e" stroke="#ff7f0e" stroke-width="1.0" fill-opacity="1.0" stroke-opacity="1.0" stroke-linejoin="miter"/>
<polygon points="211.03,490.80 201.43,486.00 201.43,495.60" fill="#ff7f0e" stroke="#ff7f0e" stroke-width="1.0" fill-opacity="1.0" stroke-opacity="1.0" stroke-linejoin="miter"/>
<polygon points="253.24,467.40 243.64,462.60 243.64,472.20" fill="#ff7f0e" stroke="#ff7f0e" stroke-width="1.0" fill-opacity="1.0" stroke-opacity="1.0" stroke-linejoin="miter"/>
<polygon points="295.45,468.60 285.85,463.80 285.85,473.40" fill="#ff7f0e" stroke="#ff7f0e" stroke-width="1.0" fill-opacity="1.0" stroke-opacity="1.0" stroke-linejoin="miter"/>
<polygon points="337.66,431.50 328.06,426.70 328.06,436.30" fill="#ff7f0e" stroke="#ff7f0e" stroke-width="1.0" fill-opacity="1.0" stroke-opacity="1.0" stroke-linejoin="miter"/>
<polygon points="379.87,404.60 370.27,399.80 370.27,409.40" fill="#ff7f0e" stroke="#ff7f0e" stroke-width="1.0" fill-opacity="1.0" stroke-opacity="1.0" stroke-linejoin="miter"/>
<polygon points="422.08,394.70 412.48,389.90 412.48,399.50" fill="#ff7f0e" stroke="#ff7f0e" stroke-width="1.0" fill-opacity="1.0" stroke-opacity="1.0" stroke-linejoin="miter"/>
<path d="M79.60,595.00 L121.81,574.60 L164.02,537.00 L206.23,501.80 L248.44,481.40 L290.65,476.30 L332.86,437.90 L375.07,408.90 L417.28,397.20" fill="none" stroke="#9467bd" stroke-opacity="1.0" stroke-width="2.5" stroke-linejoin="round" stroke-linecap="butt"/>
<circle cx="79.60" cy="595.00" r="4.80" fill="#9467bd" stroke="#9467bd" stroke-width="1.0" fill-opacity="1.0" stroke-opacity="1.0"/>
<circle cx="121.81" cy="574.60" r="4.80" fill="#9467bd" stroke="#9467bd" stroke-width="1.0" fill-opacity="1.0" stroke-opacity="1.0"/>
<circle cx="164.02" cy="537.00" r="4.80" fill="#9467bd" stroke="#9467bd" stroke-width="1.0" fill-opacity="1.0" stroke-opacity="1.0"/>
<circle cx="206.23" cy="501.80" r="4.80" fill="#9467bd" stroke="#9467bd" stroke-width="1.0" fill-opacity="1.0" stroke-opacity="1.0"/>
<circle cx="248.44" cy="481.40" r="4.80" fill="#9467bd" stroke="#9467bd" stroke-width="1.0" fill-opacity="1.0" stroke-opacity="1.0"/>
<circle cx="290.65" cy="476.30" r="4.80" fill="#9467bd" stroke="#9467bd" stroke-width="1.0" fill-opacity="1.0" stroke-opacity="1.0"/>
<circle cx="332.86" cy="437.90" r="4.80" fill="#9467bd" stroke="#9467bd" stroke-width="1.0" fill-opacity="1.0" stroke-opacity="1.0"/>
<circle cx="375.07" cy="408.90" r="4.80" fill="#9467bd" stroke="#9467bd" stroke-width="1.0" fill-opacity="1.0" stroke-opacity="1.0"/>
<circle cx="417.28" cy="397.20" r="4.80" fill="#9467bd" stroke="#9467bd" stroke-width="1.0" fill-opacity="1.0" stroke-opacity="1.0"/>
<rect x="62.70" y="340.00" width="371.50" height="271.20" fill="none" stroke="#555" stroke-width="1.1"/>
<line x1="79.60" y1="611.20" x2="79.60" y2="614.40" stroke="#555" stroke-width="1"/>
<text x="69.30" y="629.10" font-family='"Liberation Sans", sans-serif' font-size="14.8" textLength="9.03" lengthAdjust="spacingAndGlyphs" fill="#1a1a1a">2</text>
<text x="77.80" y="624.20" font-family='"Liberation Sans", sans-serif' font-size="10.0" textLength="12.72" lengthAdjust="spacingAndGlyphs" fill="#1a1a1a">10</text>
<line x1="121.81" y1="611.20" x2="121.81" y2="614.40" stroke="#555" stroke-width="1"/>
<text x="111.51" y="629.10" font-family='"Liberation Sans", sans-serif' font-size="14.8" textLength="9.03" lengthAdjust="spacingAndGlyphs" fill="#1a1a1a">2</text>
<text x="120.01" y="624.20" font-family='"Liberation Sans", sans-serif' font-size="10.0" textLength="12.72" lengthAdjust="spacingAndGlyphs" fill="#1a1a1a">11</text>
<line x1="164.02" y1="611.20" x2="164.02" y2="614.40" stroke="#555" stroke-width="1"/>
<text x="153.72" y="629.10" font-family='"Liberation Sans", sans-serif' font-size="14.8" textLength="9.03" lengthAdjust="spacingAndGlyphs" fill="#1a1a1a">2</text>
<text x="162.22" y="624.20" font-family='"Liberation Sans", sans-serif' font-size="10.0" textLength="12.72" lengthAdjust="spacingAndGlyphs" fill="#1a1a1a">12</text>
<line x1="206.23" y1="611.20" x2="206.23" y2="614.40" stroke="#555" stroke-width="1"/>
<text x="195.93" y="629.10" font-family='"Liberation Sans", sans-serif' font-size="14.8" textLength="9.03" lengthAdjust="spacingAndGlyphs" fill="#1a1a1a">2</text>
<text x="204.43" y="624.20" font-family='"Liberation Sans", sans-serif' font-size="10.0" textLength="12.72" lengthAdjust="spacingAndGlyphs" fill="#1a1a1a">13</text>
<line x1="248.44" y1="611.20" x2="248.44" y2="614.40" stroke="#555" stroke-width="1"/>
<text x="238.14" y="629.10" font-family='"Liberation Sans", sans-serif' font-size="14.8" textLength="9.03" lengthAdjust="spacingAndGlyphs" fill="#1a1a1a">2</text>
<text x="246.64" y="624.20" font-family='"Liberation Sans", sans-serif' font-size="10.0" textLength="12.72" lengthAdjust="spacingAndGlyphs" fill="#1a1a1a">14</text>
<line x1="290.65" y1="611.20" x2="290.65" y2="614.40" stroke="#555" stroke-width="1"/>
<text x="280.35" y="629.10" font-family='"Liberation Sans", sans-serif' font-size="14.8" textLength="9.03" lengthAdjust="spacingAndGlyphs" fill="#1a1a1a">2</text>
<text x="288.85" y="624.20" font-family='"Liberation Sans", sans-serif' font-size="10.0" textLength="12.72" lengthAdjust="spacingAndGlyphs" fill="#1a1a1a">15</text>
<line x1="332.86" y1="611.20" x2="332.86" y2="614.40" stroke="#555" stroke-width="1"/>
<text x="322.56" y="629.10" font-family='"Liberation Sans", sans-serif' font-size="14.8" textLength="9.03" lengthAdjust="spacingAndGlyphs" fill="#1a1a1a">2</text>
<text x="331.06" y="624.20" font-family='"Liberation Sans", sans-serif' font-size="10.0" textLength="12.72" lengthAdjust="spacingAndGlyphs" fill="#1a1a1a">16</text>
<line x1="375.07" y1="611.20" x2="375.07" y2="614.40" stroke="#555" stroke-width="1"/>
<text x="364.77" y="629.10" font-family='"Liberation Sans", sans-serif' font-size="14.8" textLength="9.03" lengthAdjust="spacingAndGlyphs" fill="#1a1a1a">2</text>
<text x="373.27" y="624.20" font-family='"Liberation Sans", sans-serif' font-size="10.0" textLength="12.72" lengthAdjust="spacingAndGlyphs" fill="#1a1a1a">17</text>
<line x1="417.28" y1="611.20" x2="417.28" y2="614.40" stroke="#555" stroke-width="1"/>
<text x="406.98" y="629.10" font-family='"Liberation Sans", sans-serif' font-size="14.8" textLength="9.03" lengthAdjust="spacingAndGlyphs" fill="#1a1a1a">2</text>
<text x="415.48" y="624.20" font-family='"Liberation Sans", sans-serif' font-size="10.0" textLength="12.72" lengthAdjust="spacingAndGlyphs" fill="#1a1a1a">18</text>
<line x1="59.50" y1="565.90" x2="62.70" y2="565.90" stroke="#555" stroke-width="1"/>
<text x="57.50" y="571.40" font-family='"Liberation Sans", sans-serif' font-size="14.0" text-anchor="end" textLength="28.05" lengthAdjust="spacingAndGlyphs" fill="#1a1a1a">0.75</text>
<line x1="59.50" y1="515.93" x2="62.70" y2="515.93" stroke="#555" stroke-width="1"/>
<text x="57.50" y="521.43" font-family='"Liberation Sans", sans-serif' font-size="14.0" text-anchor="end" textLength="28.05" lengthAdjust="spacingAndGlyphs" fill="#1a1a1a">0.76</text>
<line x1="59.50" y1="465.96" x2="62.70" y2="465.96" stroke="#555" stroke-width="1"/>
<text x="57.50" y="471.46" font-family='"Liberation Sans", sans-serif' font-size="14.0" text-anchor="end" textLength="28.05" lengthAdjust="spacingAndGlyphs" fill="#1a1a1a">0.77</text>
<line x1="59.50" y1="415.99" x2="62.70" y2="415.99" stroke="#555" stroke-width="1"/>
<text x="57.50" y="421.49" font-family='"Liberation Sans", sans-serif' font-size="14.0" text-anchor="end" textLength="28.05" lengthAdjust="spacingAndGlyphs" fill="#1a1a1a">0.78</text>
<line x1="59.50" y1="366.02" x2="62.70" y2="366.02" stroke="#555" stroke-width="1"/>
<text x="57.50" y="371.52" font-family='"Liberation Sans", sans-serif' font-size="14.0" text-anchor="end" textLength="28.05" lengthAdjust="spacingAndGlyphs" fill="#1a1a1a">0.79</text>
<text x="248.45" y="649.00" font-family='"Liberation Sans", sans-serif' font-size="17.6" text-anchor="middle" textLength="86.73" lengthAdjust="spacingAndGlyphs" fill="#1a1a1a">Batch size</text>
<g transform="translate(23.10,476.80) rotate(-90)"><text x="0.00" y="0.00" font-family='"Liberation Sans", sans-serif' font-size="17.6" text-anchor="middle" textLength="35.73" lengthAdjust="spacingAndGlyphs" fill="#1a1a1a">AUC</text></g>
<rect x="236.70" y="482.80" width="189.70" height="120.80" rx="3" ry="3" fill="#ffffff" fill-opacity="0.8" stroke="#d8d8d8" stroke-width="1"/>
<line x1="241.20" y1="494.80" x2="273.50" y2="494.80" stroke="#1f77b4" stroke-opacity="1.0" stroke-width="2.5"/>
<polygon points="257.35,490.00 252.55,499.60 262.15,499.60" fill="#1f77b4" stroke="#1f77b4" stroke-width="1.0" fill-opacity="1.0" stroke-opacity="1.0" stroke-linejoin="miter"/>
<g transform="translate(285.10,490.44) scale(1.0139)" fill="none" stroke="#1a1a1a" stroke-linecap="round"><path d="M0,1.9 C1,0.6 2.5,0.3 4.6,0.3" stroke-width="1.1"/><path d="M4.6,0.3 C8,0.3 11,0.7 11,2.8 C11,4.8 8.3,6 5.8,6" stroke-width="1.35"/><path d="M4.8,0.6 C4.4,3.5 3.2,7.5 1.2,10" stroke-width="1.9"/></g>
<text x="300.01" y="499.76" font-family='"Liberation Sans", sans-serif' font-size="14.6" textLength="31.82" lengthAdjust="spacingAndGlyphs" fill="#1a1a1a">(UB)</text>
<line x1="241.20" y1="518.30" x2="273.50" y2="518.30" stroke="#2ca02c" stroke-opacity="1.0" stroke-width="2.5"/>
<polygon points="257.35,523.10 252.55,513.50 262.15,513.50" fill="#2ca02c" stroke="#2ca02c" stroke-width="1.0" fill-opacity="1.0" stroke-opacity="1.0" stroke-linejoin="miter"/>
<g transform="translate(285.10,513.13) scale(1.0139)" fill="none" stroke="#1a1a1a" stroke-linecap="round"><path d="M8.8,2.5 C8.2,1.2 6.7,0.9 5.3,1.0 C3.6,1.2 2.8,2.3 3.3,3.7" stroke-width="1.0"/><path d="M3.3,3.7 C4,5.1 7.6,6 8.1,7.8" stroke-width="1.8"/><path d="M8.1,7.8 C8.6,9.5 6.8,10.4 4.8,10.4 C2.6,10.4 1,9.8 0.1,8.4" stroke-width="1.1"/></g>
<g transform="translate(297.36,510.29) scale(1.0139)"><path d="M5.4,0.9 A2.8,2.8 0 1 1 1.9,1.6" fill="none" stroke="#1a1a1a" stroke-width="1.05"/><path d="M0.0,0.2 L3.4,0.8 L1.3,3.6 Z" fill="#1a1a1a"/></g>
<text x="312.59" y="523.26" font-family='"Liberation Sans", sans-serif' font-size="14.6" textLength="5.96" lengthAdjust="spacingAndGlyphs" fill="#1a1a1a">(</text>
<g transform="translate(318.97,513.94) scale(1.0139)" fill="none" stroke="#1a1a1a" stroke-linecap="round"><path d="M0,1.9 C1,0.6 2.5,0.3 4.6,0.3" stroke-width="1.1"/><path d="M4.6,0.3 C8,0.3 11,0.7 11,2.8 C11,4.8 8.3,6 5.8,6" stroke-width="1.35"/><path d="M4.8,0.6 C4.4,3.5 3.2,7.5 1.2,10" stroke-width="1.9"/></g>
<text x="333.67" y="523.26" font-family='"Liberation Sans", sans-serif' font-size="14.6" textLength="89.56" lengthAdjust="spacingAndGlyphs" fill="#1a1a1a">accounting)</text>
<line x1="241.20" y1="544.00" x2="273.50" y2="544.00" stroke="#d62728" stroke-opacity="1.0" stroke-width="2.5"/>
<polygon points="252.55,544.00 262.15,539.20 262.15,548.80" fill="#d62728" stroke="#d62728" stroke-width="1.0" fill-opacity="1.0" stroke-opacity="1.0" stroke-linejoin="miter"/>
<g transform="translate(285.10,538.83) scale(1.0139)" fill="none" stroke="#1a1a1a" stroke-linecap="round"><path d="M8.8,2.5 C8.2,1.2 6.7,0.9 5.3,1.0 C3.6,1.2 2.8,2.3 3.3,3.7" stroke-width="1.0"/><path d="M3.3,3.7 C4,5.1 7.6,6 8.1,7.8" stroke-width="1.8"/><path d="M8.1,7.8 C8.6,9.5 6.8,10.4 4.8,10.4 C2.6,10.4 1,9.8 0.1,8.4" stroke-width="1.1"/></g>
<g transform="translate(297.36,535.99) scale(1.0139)"><path d="M5.4,0.9 A2.8,2.8 0 1 1 1.9,1.6" fill="none" stroke="#1a1a1a" stroke-width="1.05"/><path d="M0.0,0.2 L3.4,0.8 L1.3,3.6 Z" fill="#1a1a1a"/></g>
<text x="311.88" y="548.96" font-family='"Liberation Sans", sans-serif' font-size="14.6" textLength="30.04" lengthAdjust="spacingAndGlyphs" fill="#1a1a1a">(LB)</text>
<line x1="241.20" y1="566.90" x2="273.50" y2="566.90" stroke="#ff7f0e" stroke-opacity="1.0" stroke-width="2.5"/>
<polygon points="262.15,566.90 252.55,562.10 252.55,571.70" fill="#ff7f0e" stroke="#ff7f0e" stroke-width="1.0" fill-opacity="1.0" stroke-opacity="1.0" stroke-linejoin="miter"/>
<g transform="translate(285.10,561.73) scale(1.0139)" fill="none" stroke="#1a1a1a" stroke-linecap="round"><path d="M8.8,2.5 C8.2,1.2 6.7,0.9 5.3,1.0 C3.6,1.2 2.8,2.3 3.3,3.7" stroke-width="1.0"/><path d="M3.3,3.7 C4,5.1 7.6,6 8.1,7.8" stroke-width="1.8"/><path d="M8.1,7.8 C8.6,9.5 6.8,10.4 4.8,10.4 C2.6,10.4 1,9.8 0.1,8.4" stroke-width="1.1"/></g>
<path d="M297.65,561.32 L299.68,563.35 L297.65,565.38 L295.62,563.35 Z" fill="none" stroke="#1a1a1a" stroke-width="1.01"/>
<text x="306.20" y="571.86" font-family='"Liberation Sans", sans-serif' font-size="14.6" textLength="29.44" lengthAdjust="spacingAndGlyphs" fill="#1a1a1a">(LB)</text>
<line x1="241.20" y1="589.30" x2="273.50" y2="589.30" stroke="#9467bd" stroke-opacity="1.0" stroke-width="2.5"/>
<circle cx="257.35" cy="589.30" r="4.80" fill="#9467bd" stroke="#9467bd" stroke-width="1.0" fill-opacity="1.0" stroke-opacity="1.0"/>
<g transform="translate(285.10,584.94) scale(1.0139)" fill="none" stroke="#1a1a1a" stroke-linecap="round"><path d="M0.3,1.5 C1.5,0.6 3,0.3 5,0.3" stroke-width="1.1"/><path d="M5,0.3 C9,0.3 11.3,1.9 11.3,4.6 C11.3,8 8,10 4.5,10 L0.8,10" stroke-width="1.4"/><path d="M4.4,0.7 C4,4 3,7.5 1.8,9.8" stroke-width="1.9"/></g>
<text x="302.14" y="594.26" font-family='"Liberation Sans", sans-serif' font-size="14.6" textLength="64.45" lengthAdjust="spacingAndGlyphs" fill="#1a1a1a">(~Exact)</text>
</g>
<g>
<path d="M524.50,599.60 L566.75,597.60 L609.00,594.90 L651.25,591.80 L693.50,589.00 L735.75,585.20 L778.00,581.00 L820.25,575.50 L862.50,568.30" fill="none" stroke="#1f77b4" stroke-opacity="0.75" stroke-width="2.3" stroke-linejoin="round" stroke-linecap="butt"/>
<polygon points="524.50,594.80 519.70,604.40 529.30,604.40" fill="#1f77b4" stroke="#1f77b4" stroke-width="1.0" fill-opacity="0.75" stroke-opacity="0.75" stroke-linejoin="miter"/>
<polygon points="566.75,592.80 561.95,602.40 571.55,602.40" fill="#1f77b4" stroke="#1f77b4" stroke-width="1.0" fill-opacity="0.75" stroke-opacity="0.75" stroke-linejoin="miter"/>
<polygon points="609.00,590.10 604.20,599.70 613.80,599.70" fill="#1f77b4" stroke="#1f77b4" stroke-width="1.0" fill-opacity="0.75" stroke-opacity="0.75" stroke-linejoin="miter"/>
<polygon points="651.25,587.00 646.45,596.60 656.05,596.60" fill="#1f77b4" stroke="#1f77b4" stroke-width="1.0" fill-opacity="0.75" stroke-opacity="0.75" stroke-linejoin="miter"/>
<polygon points="693.50,584.20 688.70,593.80 698.30,593.80" fill="#1f77b4" stroke="#1f77b4" stroke-width="1.0" fill-opacity="0.75" stroke-opacity="0.75" stroke-linejoin="miter"/>
<polygon points="735.75,580.40 730.95,590.00 740.55,590.00" fill="#1f77b4" stroke="#1f77b4" stroke-width="1.0" fill-opacity="0.75" stroke-opacity="0.75" stroke-linejoin="miter"/>
<polygon points="778.00,576.20 773.20,585.80 782.80,585.80" fill="#1f77b4" stroke="#1f77b4" stroke-width="1.0" fill-opacity="0.75" stroke-opacity="0.75" stroke-linejoin="miter"/>
<polygon points="820.25,570.70 815.45,580.30 825.05,580.30" fill="#1f77b4" stroke="#1f77b4" stroke-width="1.0" fill-opacity="0.75" stroke-opacity="0.75" stroke-linejoin="miter"/>
<polygon points="862.50,563.50 857.70,573.10 867.30,573.10" fill="#1f77b4" stroke="#1f77b4" stroke-width="1.0" fill-opacity="0.75" stroke-opacity="0.75" stroke-linejoin="miter"/>
<path d="M524.50,598.40 L566.75,596.40 L609.00,593.70 L651.25,590.60 L693.50,587.80 L735.75,584.00 L778.00,579.80 L820.25,574.30 L862.50,567.10" fill="none" stroke="#2ca02c" stroke-opacity="0.75" stroke-width="2.3" stroke-linejoin="round" stroke-linecap="butt"/>
<polygon points="524.50,603.20 519.70,593.60 529.30,593.60" fill="#2ca02c" stroke="#2ca02c" stroke-width="1.0" fill-opacity="0.75" stroke-opacity="0.75" stroke-linejoin="miter"/>
<polygon points="566.75,601.20 561.95,591.60 571.55,591.60" fill="#2ca02c" stroke="#2ca02c" stroke-width="1.0" fill-opacity="0.75" stroke-opacity="0.75" stroke-linejoin="miter"/>
<polygon points="609.00,598.50 604.20,588.90 613.80,588.90" fill="#2ca02c" stroke="#2ca02c" stroke-width="1.0" fill-opacity="0.75" stroke-opacity="0.75" stroke-linejoin="miter"/>
<polygon points="651.25,595.40 646.45,585.80 656.05,585.80" fill="#2ca02c" stroke="#2ca02c" stroke-width="1.0" fill-opacity="0.75" stroke-opacity="0.75" stroke-linejoin="miter"/>
<polygon points="693.50,592.60 688.70,583.00 698.30,583.00" fill="#2ca02c" stroke="#2ca02c" stroke-width="1.0" fill-opacity="0.75" stroke-opacity="0.75" stroke-linejoin="miter"/>
<polygon points="735.75,588.80 730.95,579.20 740.55,579.20" fill="#2ca02c" stroke="#2ca02c" stroke-width="1.0" fill-opacity="0.75" stroke-opacity="0.75" stroke-linejoin="miter"/>
<polygon points="778.00,584.60 773.20,575.00 782.80,575.00" fill="#2ca02c" stroke="#2ca02c" stroke-width="1.0" fill-opacity="0.75" stroke-opacity="0.75" stroke-linejoin="miter"/>
<polygon points="820.25,579.10 815.45,569.50 825.05,569.50" fill="#2ca02c" stroke="#2ca02c" stroke-width="1.0" fill-opacity="0.75" stroke-opacity="0.75" stroke-linejoin="miter"/>
<polygon points="862.50,571.90 857.70,562.30 867.30,562.30" fill="#2ca02c" stroke="#2ca02c" stroke-width="1.0" fill-opacity="0.75" stroke-opacity="0.75" stroke-linejoin="miter"/>
<path d="M524.50,548.00 L566.75,544.10 L609.00,540.00 L651.25,535.00 L693.50,529.40 L735.75,523.90 L778.00,517.00 L820.25,508.70 L862.50,499.00" fill="none" stroke="#d62728" stroke-opacity="0.75" stroke-width="2.3" stroke-linejoin="round" stroke-linecap="butt"/>
<polygon points="519.70,548.00 529.30,543.20 529.30,552.80" fill="#d62728" stroke="#d62728" stroke-width="1.0" fill-opacity="0.75" stroke-opacity="0.75" stroke-linejoin="miter"/>
<polygon points="561.95,544.10 571.55,539.30 571.55,548.90" fill="#d62728" stroke="#d62728" stroke-width="1.0" fill-opacity="0.75" stroke-opacity="0.75" stroke-linejoin="miter"/>
<polygon points="604.20,540.00 613.80,535.20 613.80,544.80" fill="#d62728" stroke="#d62728" stroke-width="1.0" fill-opacity="0.75" stroke-opacity="0.75" stroke-linejoin="miter"/>
<polygon points="646.45,535.00 656.05,530.20 656.05,539.80" fill="#d62728" stroke="#d62728" stroke-width="1.0" fill-opacity="0.75" stroke-opacity="0.75" stroke-linejoin="miter"/>
<polygon points="688.70,529.40 698.30,524.60 698.30,534.20" fill="#d62728" stroke="#d62728" stroke-width="1.0" fill-opacity="0.75" stroke-opacity="0.75" stroke-linejoin="miter"/>
<polygon points="730.95,523.90 740.55,519.10 740.55,528.70" fill="#d62728" stroke="#d62728" stroke-width="1.0" fill-opacity="0.75" stroke-opacity="0.75" stroke-linejoin="miter"/>
<polygon points="773.20,517.00 782.80,512.20 782.80,521.80" fill="#d62728" stroke="#d62728" stroke-width="1.0" fill-opacity="0.75" stroke-opacity="0.75" stroke-linejoin="miter"/>
<polygon points="815.45,508.70 825.05,503.90 825.05,513.50" fill="#d62728" stroke="#d62728" stroke-width="1.0" fill-opacity="0.75" stroke-opacity="0.75" stroke-linejoin="miter"/>
<polygon points="857.70,499.00 867.30,494.20 867.30,503.80" fill="#d62728" stroke="#d62728" stroke-width="1.0" fill-opacity="0.75" stroke-opacity="0.75" stroke-linejoin="miter"/>
<path d="M524.50,428.60 L566.75,420.50 L609.00,413.10 L651.25,404.00 L693.50,395.50 L735.75,386.20 L778.00,378.10 L820.25,370.30 L862.50,364.40" fill="none" stroke="#ff7f0e" stroke-opacity="0.75" stroke-width="2.3" stroke-linejoin="round" stroke-linecap="butt"/>
<polygon points="529.30,428.60 519.70,423.80 519.70,433.40" fill="#ff7f0e" stroke="#ff7f0e" stroke-width="1.0" fill-opacity="0.75" stroke-opacity="0.75" stroke-linejoin="miter"/>
<polygon points="571.55,420.50 561.95,415.70 561.95,425.30" fill="#ff7f0e" stroke="#ff7f0e" stroke-width="1.0" fill-opacity="0.75" stroke-opacity="0.75" stroke-linejoin="miter"/>
<polygon points="613.80,413.10 604.20,408.30 604.20,417.90" fill="#ff7f0e" stroke="#ff7f0e" stroke-width="1.0" fill-opacity="0.75" stroke-opacity="0.75" stroke-linejoin="miter"/>
<polygon points="656.05,404.00 646.45,399.20 646.45,408.80" fill="#ff7f0e" stroke="#ff7f0e" stroke-width="1.0" fill-opacity="0.75" stroke-opacity="0.75" stroke-linejoin="miter"/>
<polygon points="698.30,395.50 688.70,390.70 688.70,400.30" fill="#ff7f0e" stroke="#ff7f0e" stroke-width="1.0" fill-opacity="0.75" stroke-opacity="0.75" stroke-linejoin="miter"/>
<polygon points="740.55,386.20 730.95,381.40 730.95,391.00" fill="#ff7f0e" stroke="#ff7f0e" stroke-width="1.0" fill-opacity="0.75" stroke-opacity="0.75" stroke-linejoin="miter"/>
<polygon points="782.80,378.10 773.20,373.30 773.20,382.90" fill="#ff7f0e" stroke="#ff7f0e" stroke-width="1.0" fill-opacity="0.75" stroke-opacity="0.75" stroke-linejoin="miter"/>
<polygon points="825.05,370.30 815.45,365.50 815.45,375.10" fill="#ff7f0e" stroke="#ff7f0e" stroke-width="1.0" fill-opacity="0.75" stroke-opacity="0.75" stroke-linejoin="miter"/>
<polygon points="867.30,364.40 857.70,359.60 857.70,369.20" fill="#ff7f0e" stroke="#ff7f0e" stroke-width="1.0" fill-opacity="0.75" stroke-opacity="0.75" stroke-linejoin="miter"/>
<path d="M524.50,352.30 L566.75,352.30 L609.00,352.30 L651.25,352.30 L693.50,352.30 L735.75,352.30 L778.00,352.30 L820.25,352.30 L862.50,352.30" fill="none" stroke="#9467bd" stroke-opacity="0.75" stroke-width="2.3" stroke-linejoin="round" stroke-linecap="butt"/>
<circle cx="524.50" cy="352.30" r="4.80" fill="#9467bd" stroke="#9467bd" stroke-width="1.0" fill-opacity="0.75" stroke-opacity="0.75"/>
<circle cx="566.75" cy="352.30" r="4.80" fill="#9467bd" stroke="#9467bd" stroke-width="1.0" fill-opacity="0.75" stroke-opacity="0.75"/>
<circle cx="609.00" cy="352.30" r="4.80" fill="#9467bd" stroke="#9467bd" stroke-width="1.0" fill-opacity="0.75" stroke-opacity="0.75"/>
<circle cx="651.25" cy="352.30" r="4.80" fill="#9467bd" stroke="#9467bd" stroke-width="1.0" fill-opacity="0.75" stroke-opacity="0.75"/>
<circle cx="693.50" cy="352.30" r="4.80" fill="#9467bd" stroke="#9467bd" stroke-width="1.0" fill-opacity="0.75" stroke-opacity="0.75"/>
<circle cx="735.75" cy="352.30" r="4.80" fill="#9467bd" stroke="#9467bd" stroke-width="1.0" fill-opacity="0.75" stroke-opacity="0.75"/>
<circle cx="778.00" cy="352.30" r="4.80" fill="#9467bd" stroke="#9467bd" stroke-width="1.0" fill-opacity="0.75" stroke-opacity="0.75"/>
<circle cx="820.25" cy="352.30" r="4.80" fill="#9467bd" stroke="#9467bd" stroke-width="1.0" fill-opacity="0.75" stroke-opacity="0.75"/>
<circle cx="862.50" cy="352.30" r="4.80" fill="#9467bd" stroke="#9467bd" stroke-width="1.0" fill-opacity="0.75" stroke-opacity="0.75"/>
<rect x="507.70" y="339.70" width="371.70" height="271.40" fill="none" stroke="#555" stroke-width="1.1"/>
<line x1="524.50" y1="611.10" x2="524.50" y2="614.30" stroke="#555" stroke-width="1"/>
<text x="514.20" y="629.00" font-family='"Liberation Sans", sans-serif' font-size="14.8" textLength="9.03" lengthAdjust="spacingAndGlyphs" fill="#1a1a1a">2</text>
<text x="522.70" y="624.10" font-family='"Liberation Sans", sans-serif' font-size="10.0" textLength="12.72" lengthAdjust="spacingAndGlyphs" fill="#1a1a1a">10</text>
<line x1="566.75" y1="611.10" x2="566.75" y2="614.30" stroke="#555" stroke-width="1"/>
<text x="556.45" y="629.00" font-family='"Liberation Sans", sans-serif' font-size="14.8" textLength="9.03" lengthAdjust="spacingAndGlyphs" fill="#1a1a1a">2</text>
<text x="564.95" y="624.10" font-family='"Liberation Sans", sans-serif' font-size="10.0" textLength="12.72" lengthAdjust="spacingAndGlyphs" fill="#1a1a1a">11</text>
<line x1="609.00" y1="611.10" x2="609.00" y2="614.30" stroke="#555" stroke-width="1"/>
<text x="598.70" y="629.00" font-family='"Liberation Sans", sans-serif' font-size="14.8" textLength="9.03" lengthAdjust="spacingAndGlyphs" fill="#1a1a1a">2</text>
<text x="607.20" y="624.10" font-family='"Liberation Sans", sans-serif' font-size="10.0" textLength="12.72" lengthAdjust="spacingAndGlyphs" fill="#1a1a1a">12</text>
<line x1="651.25" y1="611.10" x2="651.25" y2="614.30" stroke="#555" stroke-width="1"/>
<text x="640.95" y="629.00" font-family='"Liberation Sans", sans-serif' font-size="14.8" textLength="9.03" lengthAdjust="spacingAndGlyphs" fill="#1a1a1a">2</text>
<text x="649.45" y="624.10" font-family='"Liberation Sans", sans-serif' font-size="10.0" textLength="12.72" lengthAdjust="spacingAndGlyphs" fill="#1a1a1a">13</text>
<line x1="693.50" y1="611.10" x2="693.50" y2="614.30" stroke="#555" stroke-width="1"/>
<text x="683.20" y="629.00" font-family='"Liberation Sans", sans-serif' font-size="14.8" textLength="9.03" lengthAdjust="spacingAndGlyphs" fill="#1a1a1a">2</text>
<text x="691.70" y="624.10" font-family='"Liberation Sans", sans-serif' font-size="10.0" textLength="12.72" lengthAdjust="spacingAndGlyphs" fill="#1a1a1a">14</text>
<line x1="735.75" y1="611.10" x2="735.75" y2="614.30" stroke="#555" stroke-width="1"/>
<text x="725.45" y="629.00" font-family='"Liberation Sans", sans-serif' font-size="14.8" textLength="9.03" lengthAdjust="spacingAndGlyphs" fill="#1a1a1a">2</text>
<text x="733.95" y="624.10" font-family='"Liberation Sans", sans-serif' font-size="10.0" textLength="12.72" lengthAdjust="spacingAndGlyphs" fill="#1a1a1a">15</text>
<line x1="778.00" y1="611.10" x2="778.00" y2="614.30" stroke="#555" stroke-width="1"/>
<text x="767.70" y="629.00" font-family='"Liberation Sans", sans-serif' font-size="14.8" textLength="9.03" lengthAdjust="spacingAndGlyphs" fill="#1a1a1a">2</text>
<text x="776.20" y="624.10" font-family='"Liberation Sans", sans-serif' font-size="10.0" textLength="12.72" lengthAdjust="spacingAndGlyphs" fill="#1a1a1a">16</text>
<line x1="820.25" y1="611.10" x2="820.25" y2="614.30" stroke="#555" stroke-width="1"/>
<text x="809.95" y="629.00" font-family='"Liberation Sans", sans-serif' font-size="14.8" textLength="9.03" lengthAdjust="spacingAndGlyphs" fill="#1a1a1a">2</text>
<text x="818.45" y="624.10" font-family='"Liberation Sans", sans-serif' font-size="10.0" textLength="12.72" lengthAdjust="spacingAndGlyphs" fill="#1a1a1a">17</text>
<line x1="862.50" y1="611.10" x2="862.50" y2="614.30" stroke="#555" stroke-width="1"/>
<text x="852.20" y="629.00" font-family='"Liberation Sans", sans-serif' font-size="14.8" textLength="9.03" lengthAdjust="spacingAndGlyphs" fill="#1a1a1a">2</text>
<text x="860.70" y="624.10" font-family='"Liberation Sans", sans-serif' font-size="10.0" textLength="12.72" lengthAdjust="spacingAndGlyphs" fill="#1a1a1a">18</text>
<line x1="504.50" y1="590.80" x2="507.70" y2="590.80" stroke="#555" stroke-width="1"/>
<text x="502.50" y="596.30" font-family='"Liberation Sans", sans-serif' font-size="14.0" text-anchor="end" textLength="28.05" lengthAdjust="spacingAndGlyphs" fill="#1a1a1a">0.50</text>
<line x1="504.50" y1="560.65" x2="507.70" y2="560.65" stroke="#555" stroke-width="1"/>
<text x="502.50" y="566.15" font-family='"Liberation Sans", sans-serif' font-size="14.0" text-anchor="end" textLength="28.05" lengthAdjust="spacingAndGlyphs" fill="#1a1a1a">0.75</text>
<line x1="504.50" y1="530.50" x2="507.70" y2="530.50" stroke="#555" stroke-width="1"/>
<text x="502.50" y="536.00" font-family='"Liberation Sans", sans-serif' font-size="14.0" text-anchor="end" textLength="28.05" lengthAdjust="spacingAndGlyphs" fill="#1a1a1a">1.00</text>
<line x1="504.50" y1="500.35" x2="507.70" y2="500.35" stroke="#555" stroke-width="1"/>
<text x="502.50" y="505.85" font-family='"Liberation Sans", sans-serif' font-size="14.0" text-anchor="end" textLength="28.05" lengthAdjust="spacingAndGlyphs" fill="#1a1a1a">1.25</text>
<line x1="504.50" y1="470.20" x2="507.70" y2="470.20" stroke="#555" stroke-width="1"/>
<text x="502.50" y="475.70" font-family='"Liberation Sans", sans-serif' font-size="14.0" text-anchor="end" textLength="28.05" lengthAdjust="spacingAndGlyphs" fill="#1a1a1a">1.50</text>
<line x1="504.50" y1="440.05" x2="507.70" y2="440.05" stroke="#555" stroke-width="1"/>
<text x="502.50" y="445.55" font-family='"Liberation Sans", sans-serif' font-size="14.0" text-anchor="end" textLength="28.05" lengthAdjust="spacingAndGlyphs" fill="#1a1a1a">1.75</text>
<line x1="504.50" y1="409.90" x2="507.70" y2="409.90" stroke="#555" stroke-width="1"/>
<text x="502.50" y="415.40" font-family='"Liberation Sans", sans-serif' font-size="14.0" text-anchor="end" textLength="28.05" lengthAdjust="spacingAndGlyphs" fill="#1a1a1a">2.00</text>
<line x1="504.50" y1="379.75" x2="507.70" y2="379.75" stroke="#555" stroke-width="1"/>
<text x="502.50" y="385.25" font-family='"Liberation Sans", sans-serif' font-size="14.0" text-anchor="end" textLength="28.05" lengthAdjust="spacingAndGlyphs" fill="#1a1a1a">2.25</text>
<line x1="504.50" y1="349.60" x2="507.70" y2="349.60" stroke="#555" stroke-width="1"/>
<text x="502.50" y="355.10" font-family='"Liberation Sans", sans-serif' font-size="14.0" text-anchor="end" textLength="28.05" lengthAdjust="spacingAndGlyphs" fill="#1a1a1a">2.50</text>
<text x="693.55" y="648.90" font-family='"Liberation Sans", sans-serif' font-size="17.6" text-anchor="middle" textLength="86.73" lengthAdjust="spacingAndGlyphs" fill="#1a1a1a">Batch size</text>
<g transform="translate(467.80,477.30) rotate(-90)"><text x="0.80" y="0.00" font-family='"Liberation Serif", serif' font-size="21" font-style="italic" text-anchor="middle" fill="#1a1a1a">σ</text></g>
<rect x="663.70" y="402.00" width="159.20" height="102.90" rx="3" ry="3" fill="#ffffff" fill-opacity="0.8" stroke="#d8d8d8" stroke-width="1"/>
<line x1="667.50" y1="412.40" x2="694.70" y2="412.40" stroke="#1f77b4" stroke-opacity="0.75" stroke-width="2.3"/>
<polygon points="681.10,407.60 676.30,417.20 685.90,417.20" fill="#1f77b4" stroke="#1f77b4" stroke-width="1.0" fill-opacity="0.75" stroke-opacity="0.75" stroke-linejoin="miter"/>
<g transform="translate(704.60,408.75) scale(0.8472)" fill="none" stroke="#1a1a1a" stroke-linecap="round"><path d="M0,1.9 C1,0.6 2.5,0.3 4.6,0.3" stroke-width="1.1"/><path d="M4.6,0.3 C8,0.3 11,0.7 11,2.8 C11,4.8 8.3,6 5.8,6" stroke-width="1.35"/><path d="M4.8,0.6 C4.4,3.5 3.2,7.5 1.2,10" stroke-width="1.9"/></g>
<text x="716.96" y="416.55" font-family='"Liberation Sans", sans-serif' font-size="12.2" textLength="26.79" lengthAdjust="spacingAndGlyphs" fill="#1a1a1a">(UB)</text>
<line x1="667.50" y1="432.90" x2="694.70" y2="432.90" stroke="#2ca02c" stroke-opacity="0.75" stroke-width="2.3"/>
<polygon points="681.10,437.70 676.30,428.10 685.90,428.10" fill="#2ca02c" stroke="#2ca02c" stroke-width="1.0" fill-opacity="0.75" stroke-opacity="0.75" stroke-linejoin="miter"/>
<g transform="translate(704.60,428.58) scale(0.8472)" fill="none" stroke="#1a1a1a" stroke-linecap="round"><path d="M8.8,2.5 C8.2,1.2 6.7,0.9 5.3,1.0 C3.6,1.2 2.8,2.3 3.3,3.7" stroke-width="1.0"/><path d="M3.3,3.7 C4,5.1 7.6,6 8.1,7.8" stroke-width="1.8"/><path d="M8.1,7.8 C8.6,9.5 6.8,10.4 4.8,10.4 C2.6,10.4 1,9.8 0.1,8.4" stroke-width="1.1"/></g>
<g transform="translate(714.85,426.20) scale(0.8472)"><path d="M5.4,0.9 A2.8,2.8 0 1 1 1.9,1.6" fill="none" stroke="#1a1a1a" stroke-width="1.05"/><path d="M0.0,0.2 L3.4,0.8 L1.3,3.6 Z" fill="#1a1a1a"/></g>
<text x="727.47" y="437.05" font-family='"Liberation Sans", sans-serif' font-size="12.2" textLength="5.18" lengthAdjust="spacingAndGlyphs" fill="#1a1a1a">(</text>
<g transform="translate(732.90,429.25) scale(0.8472)" fill="none" stroke="#1a1a1a" stroke-linecap="round"><path d="M0,1.9 C1,0.6 2.5,0.3 4.6,0.3" stroke-width="1.1"/><path d="M4.6,0.3 C8,0.3 11,0.7 11,2.8 C11,4.8 8.3,6 5.8,6" stroke-width="1.35"/><path d="M4.8,0.6 C4.4,3.5 3.2,7.5 1.2,10" stroke-width="1.9"/></g>
<text x="745.09" y="437.05" font-family='"Liberation Sans", sans-serif' font-size="12.2" textLength="75.03" lengthAdjust="spacingAndGlyphs" fill="#1a1a1a">accounting)</text>
<line x1="667.50" y1="455.00" x2="694.70" y2="455.00" stroke="#d62728" stroke-opacity="0.75" stroke-width="2.3"/>
<polygon points="676.30,455.00 685.90,450.20 685.90,459.80" fill="#d62728" stroke="#d62728" stroke-width="1.0" fill-opacity="0.75" stroke-opacity="0.75" stroke-linejoin="miter"/>
<g transform="translate(704.60,450.68) scale(0.8472)" fill="none" stroke="#1a1a1a" stroke-linecap="round"><path d="M8.8,2.5 C8.2,1.2 6.7,0.9 5.3,1.0 C3.6,1.2 2.8,2.3 3.3,3.7" stroke-width="1.0"/><path d="M3.3,3.7 C4,5.1 7.6,6 8.1,7.8" stroke-width="1.8"/><path d="M8.1,7.8 C8.6,9.5 6.8,10.4 4.8,10.4 C2.6,10.4 1,9.8 0.1,8.4" stroke-width="1.1"/></g>
<g transform="translate(714.85,448.30) scale(0.8472)"><path d="M5.4,0.9 A2.8,2.8 0 1 1 1.9,1.6" fill="none" stroke="#1a1a1a" stroke-width="1.05"/><path d="M0.0,0.2 L3.4,0.8 L1.3,3.6 Z" fill="#1a1a1a"/></g>
<text x="726.88" y="459.15" font-family='"Liberation Sans", sans-serif' font-size="12.2" textLength="25.29" lengthAdjust="spacingAndGlyphs" fill="#1a1a1a">(LB)</text>
<line x1="667.50" y1="474.70" x2="694.70" y2="474.70" stroke="#ff7f0e" stroke-opacity="0.75" stroke-width="2.3"/>
<polygon points="685.90,474.70 676.30,469.90 676.30,479.50" fill="#ff7f0e" stroke="#ff7f0e" stroke-width="1.0" fill-opacity="0.75" stroke-opacity="0.75" stroke-linejoin="miter"/>
<g transform="translate(704.60,470.38) scale(0.8472)" fill="none" stroke="#1a1a1a" stroke-linecap="round"><path d="M8.8,2.5 C8.2,1.2 6.7,0.9 5.3,1.0 C3.6,1.2 2.8,2.3 3.3,3.7" stroke-width="1.0"/><path d="M3.3,3.7 C4,5.1 7.6,6 8.1,7.8" stroke-width="1.8"/><path d="M8.1,7.8 C8.6,9.5 6.8,10.4 4.8,10.4 C2.6,10.4 1,9.8 0.1,8.4" stroke-width="1.1"/></g>
<path d="M715.09,470.04 L716.78,471.73 L715.09,473.43 L713.39,471.73 Z" fill="none" stroke="#1a1a1a" stroke-width="0.85"/>
<text x="722.13" y="478.85" font-family='"Liberation Sans", sans-serif' font-size="12.2" textLength="24.79" lengthAdjust="spacingAndGlyphs" fill="#1a1a1a">(LB)</text>
<line x1="667.50" y1="493.80" x2="694.70" y2="493.80" stroke="#9467bd" stroke-opacity="0.75" stroke-width="2.3"/>
<circle cx="681.10" cy="493.80" r="4.80" fill="#9467bd" stroke="#9467bd" stroke-width="1.0" fill-opacity="0.75" stroke-opacity="0.75"/>
<g transform="translate(704.60,490.15) scale(0.8472)" fill="none" stroke="#1a1a1a" stroke-linecap="round"><path d="M0.3,1.5 C1.5,0.6 3,0.3 5,0.3" stroke-width="1.1"/><path d="M5,0.3 C9,0.3 11.3,1.9 11.3,4.6 C11.3,8 8,10 4.5,10 L0.8,10" stroke-width="1.4"/><path d="M4.4,0.7 C4,4 3,7.5 1.8,9.8" stroke-width="1.9"/></g>
<text x="718.74" y="497.95" font-family='"Liberation Sans", sans-serif' font-size="12.2" textLength="54.05" lengthAdjust="spacingAndGlyphs" fill="#1a1a1a">(~Exact)</text>
</g>
<g>
<path d="M980.50,436.00 L1022.64,435.00 L1064.78,462.00 L1064.78,468.00 L1022.64,442.00 L980.50,443.00 Z" fill="#1f77b4" fill-opacity="0.2" stroke="none"/>
<path d="M1149.06,552.00 L1191.20,589.00 L1233.34,548.00 L1233.34,553.00 L1191.20,598.00 L1149.06,559.00 Z" fill="#1f77b4" fill-opacity="0.15" stroke="none"/>
<path d="M1233.34,470.00 L1275.48,504.00 L1317.62,514.00 L1317.62,549.00 L1275.48,510.00 L1233.34,474.00 Z" fill="#d62728" fill-opacity="0.2" stroke="none"/>
<path d="M1106.92,470.00 L1149.06,524.00 L1191.20,508.00 L1233.34,490.00 L1275.48,515.00 L1317.62,533.00 L1317.62,557.00 L1275.48,521.00 L1233.34,494.00 L1191.20,517.00 L1149.06,532.00 L1106.92,476.00 Z" fill="#ff7f0e" fill-opacity="0.2" stroke="none"/>
<path d="M1233.34,548.00 L1275.48,555.00 L1317.62,574.00 L1317.62,588.00 L1275.48,559.00 L1233.34,553.00 Z" fill="#1f77b4" fill-opacity="0.2" stroke="none"/>
<path d="M980.50,439.60 L1022.64,438.50 L1064.78,465.40 L1106.92,507.20 L1149.06,555.80 L1191.20,594.10 L1233.34,550.60 L1275.48,557.10 L1317.62,583.70" fill="none" stroke="#1f77b4" stroke-opacity="1.0" stroke-width="2.6" stroke-linejoin="round" stroke-linecap="butt"/>
<polygon points="980.50,434.80 975.70,444.40 985.30,444.40" fill="#1f77b4" stroke="#1f77b4" stroke-width="1.0" fill-opacity="1.0" stroke-opacity="1.0" stroke-linejoin="miter"/>
<polygon points="1022.64,433.70 1017.84,443.30 1027.44,443.30" fill="#1f77b4" stroke="#1f77b4" stroke-width="1.0" fill-opacity="1.0" stroke-opacity="1.0" stroke-linejoin="miter"/>
<polygon points="1064.78,460.60 1059.98,470.20 1069.58,470.20" fill="#1f77b4" stroke="#1f77b4" stroke-width="1.0" fill-opacity="1.0" stroke-opacity="1.0" stroke-linejoin="miter"/>
<polygon points="1106.92,502.40 1102.12,512.00 1111.72,512.00" fill="#1f77b4" stroke="#1f77b4" stroke-width="1.0" fill-opacity="1.0" stroke-opacity="1.0" stroke-linejoin="miter"/>
<polygon points="1149.06,551.00 1144.26,560.60 1153.86,560.60" fill="#1f77b4" stroke="#1f77b4" stroke-width="1.0" fill-opacity="1.0" stroke-opacity="1.0" stroke-linejoin="miter"/>
<polygon points="1191.20,589.30 1186.40,598.90 1196.00,598.90" fill="#1f77b4" stroke="#1f77b4" stroke-width="1.0" fill-opacity="1.0" stroke-opacity="1.0" stroke-linejoin="miter"/>
<polygon points="1233.34,545.80 1228.54,555.40 1238.14,555.40" fill="#1f77b4" stroke="#1f77b4" stroke-width="1.0" fill-opacity="1.0" stroke-opacity="1.0" stroke-linejoin="miter"/>
<polygon points="1275.48,552.30 1270.68,561.90 1280.28,561.90" fill="#1f77b4" stroke="#1f77b4" stroke-width="1.0" fill-opacity="1.0" stroke-opacity="1.0" stroke-linejoin="miter"/>
<polygon points="1317.62,578.90 1312.82,588.50 1322.42,588.50" fill="#1f77b4" stroke="#1f77b4" stroke-width="1.0" fill-opacity="1.0" stroke-opacity="1.0" stroke-linejoin="miter"/>
<path d="M980.50,354.80 L1022.64,373.50 L1064.78,415.20 L1106.92,466.00 L1149.06,523.30 L1191.20,480.30 L1233.34,472.00 L1275.48,507.20 L1317.62,528.00" fill="none" stroke="#d62728" stroke-opacity="1.0" stroke-width="2.6" stroke-linejoin="round" stroke-linecap="butt"/>
<polygon points="975.70,354.80 985.30,350.00 985.30,359.60" fill="#d62728" stroke="#d62728" stroke-width="1.0" fill-opacity="1.0" stroke-opacity="1.0" stroke-linejoin="miter"/>
<polygon points="1017.84,373.50 1027.44,368.70 1027.44,378.30" fill="#d62728" stroke="#d62728" stroke-width="1.0" fill-opacity="1.0" stroke-opacity="1.0" stroke-linejoin="miter"/>
<polygon points="1059.98,415.20 1069.58,410.40 1069.58,420.00" fill="#d62728" stroke="#d62728" stroke-width="1.0" fill-opacity="1.0" stroke-opacity="1.0" stroke-linejoin="miter"/>
<polygon points="1102.12,466.00 1111.72,461.20 1111.72,470.80" fill="#d62728" stroke="#d62728" stroke-width="1.0" fill-opacity="1.0" stroke-opacity="1.0" stroke-linejoin="miter"/>
<polygon points="1144.26,523.30 1153.86,518.50 1153.86,528.10" fill="#d62728" stroke="#d62728" stroke-width="1.0" fill-opacity="1.0" stroke-opacity="1.0" stroke-linejoin="miter"/>
<polygon points="1186.40,480.30 1196.00,475.50 1196.00,485.10" fill="#d62728" stroke="#d62728" stroke-width="1.0" fill-opacity="1.0" stroke-opacity="1.0" stroke-linejoin="miter"/>
<polygon points="1228.54,472.00 1238.14,467.20 1238.14,476.80" fill="#d62728" stroke="#d62728" stroke-width="1.0" fill-opacity="1.0" stroke-opacity="1.0" stroke-linejoin="miter"/>
<polygon points="1270.68,507.20 1280.28,502.40 1280.28,512.00" fill="#d62728" stroke="#d62728" stroke-width="1.0" fill-opacity="1.0" stroke-opacity="1.0" stroke-linejoin="miter"/>
<polygon points="1312.82,528.00 1322.42,523.20 1322.42,532.80" fill="#d62728" stroke="#d62728" stroke-width="1.0" fill-opacity="1.0" stroke-opacity="1.0" stroke-linejoin="miter"/>
<path d="M980.50,353.80 L1022.64,378.60 L1064.78,421.60 L1106.92,473.30 L1149.06,528.00 L1191.20,512.90 L1233.34,492.10 L1275.48,518.10 L1317.62,545.40" fill="none" stroke="#ff7f0e" stroke-opacity="1.0" stroke-width="2.6" stroke-linejoin="round" stroke-linecap="butt"/>
<polygon points="985.30,353.80 975.70,349.00 975.70,358.60" fill="#ff7f0e" stroke="#ff7f0e" stroke-width="1.0" fill-opacity="1.0" stroke-opacity="1.0" stroke-linejoin="miter"/>
<polygon points="1027.44,378.60 1017.84,373.80 1017.84,383.40" fill="#ff7f0e" stroke="#ff7f0e" stroke-width="1.0" fill-opacity="1.0" stroke-opacity="1.0" stroke-linejoin="miter"/>
<polygon points="1069.58,421.60 1059.98,416.80 1059.98,426.40" fill="#ff7f0e" stroke="#ff7f0e" stroke-width="1.0" fill-opacity="1.0" stroke-opacity="1.0" stroke-linejoin="miter"/>
<polygon points="1111.72,473.30 1102.12,468.50 1102.12,478.10" fill="#ff7f0e" stroke="#ff7f0e" stroke-width="1.0" fill-opacity="1.0" stroke-opacity="1.0" stroke-linejoin="miter"/>
<polygon points="1153.86,528.00 1144.26,523.20 1144.26,532.80" fill="#ff7f0e" stroke="#ff7f0e" stroke-width="1.0" fill-opacity="1.0" stroke-opacity="1.0" stroke-linejoin="miter"/>
<polygon points="1196.00,512.90 1186.40,508.10 1186.40,517.70" fill="#ff7f0e" stroke="#ff7f0e" stroke-width="1.0" fill-opacity="1.0" stroke-opacity="1.0" stroke-linejoin="miter"/>
<polygon points="1238.14,492.10 1228.54,487.30 1228.54,496.90" fill="#ff7f0e" stroke="#ff7f0e" stroke-width="1.0" fill-opacity="1.0" stroke-opacity="1.0" stroke-linejoin="miter"/>
<polygon points="1280.28,518.10 1270.68,513.30 1270.68,522.90" fill="#ff7f0e" stroke="#ff7f0e" stroke-width="1.0" fill-opacity="1.0" stroke-opacity="1.0" stroke-linejoin="miter"/>
<polygon points="1322.42,545.40 1312.82,540.60 1312.82,550.20" fill="#ff7f0e" stroke="#ff7f0e" stroke-width="1.0" fill-opacity="1.0" stroke-opacity="1.0" stroke-linejoin="miter"/>
<rect x="963.60" y="340.00" width="370.90" height="271.10" fill="none" stroke="#555" stroke-width="1.1"/>
<line x1="980.50" y1="611.10" x2="980.50" y2="614.30" stroke="#555" stroke-width="1"/>
<text x="970.20" y="629.00" font-family='"Liberation Sans", sans-serif' font-size="14.8" textLength="9.03" lengthAdjust="spacingAndGlyphs" fill="#1a1a1a">2</text>
<text x="978.70" y="624.10" font-family='"Liberation Sans", sans-serif' font-size="10.0" textLength="12.72" lengthAdjust="spacingAndGlyphs" fill="#1a1a1a">10</text>
<line x1="1022.64" y1="611.10" x2="1022.64" y2="614.30" stroke="#555" stroke-width="1"/>
<text x="1012.34" y="629.00" font-family='"Liberation Sans", sans-serif' font-size="14.8" textLength="9.03" lengthAdjust="spacingAndGlyphs" fill="#1a1a1a">2</text>
<text x="1020.84" y="624.10" font-family='"Liberation Sans", sans-serif' font-size="10.0" textLength="12.72" lengthAdjust="spacingAndGlyphs" fill="#1a1a1a">11</text>
<line x1="1064.78" y1="611.10" x2="1064.78" y2="614.30" stroke="#555" stroke-width="1"/>
<text x="1054.48" y="629.00" font-family='"Liberation Sans", sans-serif' font-size="14.8" textLength="9.03" lengthAdjust="spacingAndGlyphs" fill="#1a1a1a">2</text>
<text x="1062.98" y="624.10" font-family='"Liberation Sans", sans-serif' font-size="10.0" textLength="12.72" lengthAdjust="spacingAndGlyphs" fill="#1a1a1a">12</text>
<line x1="1106.92" y1="611.10" x2="1106.92" y2="614.30" stroke="#555" stroke-width="1"/>
<text x="1096.62" y="629.00" font-family='"Liberation Sans", sans-serif' font-size="14.8" textLength="9.03" lengthAdjust="spacingAndGlyphs" fill="#1a1a1a">2</text>
<text x="1105.12" y="624.10" font-family='"Liberation Sans", sans-serif' font-size="10.0" textLength="12.72" lengthAdjust="spacingAndGlyphs" fill="#1a1a1a">13</text>
<line x1="1149.06" y1="611.10" x2="1149.06" y2="614.30" stroke="#555" stroke-width="1"/>
<text x="1138.76" y="629.00" font-family='"Liberation Sans", sans-serif' font-size="14.8" textLength="9.03" lengthAdjust="spacingAndGlyphs" fill="#1a1a1a">2</text>
<text x="1147.26" y="624.10" font-family='"Liberation Sans", sans-serif' font-size="10.0" textLength="12.72" lengthAdjust="spacingAndGlyphs" fill="#1a1a1a">14</text>
<line x1="1191.20" y1="611.10" x2="1191.20" y2="614.30" stroke="#555" stroke-width="1"/>
<text x="1180.90" y="629.00" font-family='"Liberation Sans", sans-serif' font-size="14.8" textLength="9.03" lengthAdjust="spacingAndGlyphs" fill="#1a1a1a">2</text>
<text x="1189.40" y="624.10" font-family='"Liberation Sans", sans-serif' font-size="10.0" textLength="12.72" lengthAdjust="spacingAndGlyphs" fill="#1a1a1a">15</text>
<line x1="1233.34" y1="611.10" x2="1233.34" y2="614.30" stroke="#555" stroke-width="1"/>
<text x="1223.04" y="629.00" font-family='"Liberation Sans", sans-serif' font-size="14.8" textLength="9.03" lengthAdjust="spacingAndGlyphs" fill="#1a1a1a">2</text>
<text x="1231.54" y="624.10" font-family='"Liberation Sans", sans-serif' font-size="10.0" textLength="12.72" lengthAdjust="spacingAndGlyphs" fill="#1a1a1a">16</text>
<line x1="1275.48" y1="611.10" x2="1275.48" y2="614.30" stroke="#555" stroke-width="1"/>
<text x="1265.18" y="629.00" font-family='"Liberation Sans", sans-serif' font-size="14.8" textLength="9.03" lengthAdjust="spacingAndGlyphs" fill="#1a1a1a">2</text>
<text x="1273.68" y="624.10" font-family='"Liberation Sans", sans-serif' font-size="10.0" textLength="12.72" lengthAdjust="spacingAndGlyphs" fill="#1a1a1a">17</text>
<line x1="1317.62" y1="611.10" x2="1317.62" y2="614.30" stroke="#555" stroke-width="1"/>
<text x="1307.32" y="629.00" font-family='"Liberation Sans", sans-serif' font-size="14.8" textLength="9.03" lengthAdjust="spacingAndGlyphs" fill="#1a1a1a">2</text>
<text x="1315.82" y="624.10" font-family='"Liberation Sans", sans-serif' font-size="10.0" textLength="12.72" lengthAdjust="spacingAndGlyphs" fill="#1a1a1a">18</text>
<line x1="960.40" y1="608.50" x2="963.60" y2="608.50" stroke="#555" stroke-width="1"/>
<text x="958.40" y="614.00" font-family='"Liberation Sans", sans-serif' font-size="14.0" text-anchor="end" textLength="36.06" lengthAdjust="spacingAndGlyphs" fill="#1a1a1a">0.800</text>
<line x1="960.40" y1="568.42" x2="963.60" y2="568.42" stroke="#555" stroke-width="1"/>
<text x="958.40" y="573.92" font-family='"Liberation Sans", sans-serif' font-size="14.0" text-anchor="end" textLength="36.06" lengthAdjust="spacingAndGlyphs" fill="#1a1a1a">0.801</text>
<line x1="960.40" y1="528.34" x2="963.60" y2="528.34" stroke="#555" stroke-width="1"/>
<text x="958.40" y="533.84" font-family='"Liberation Sans", sans-serif' font-size="14.0" text-anchor="end" textLength="36.06" lengthAdjust="spacingAndGlyphs" fill="#1a1a1a">0.802</text>
<line x1="960.40" y1="488.26" x2="963.60" y2="488.26" stroke="#555" stroke-width="1"/>
<text x="958.40" y="493.76" font-family='"Liberation Sans", sans-serif' font-size="14.0" text-anchor="end" textLength="36.06" lengthAdjust="spacingAndGlyphs" fill="#1a1a1a">0.803</text>
<line x1="960.40" y1="448.18" x2="963.60" y2="448.18" stroke="#555" stroke-width="1"/>
<text x="958.40" y="453.68" font-family='"Liberation Sans", sans-serif' font-size="14.0" text-anchor="end" textLength="36.06" lengthAdjust="spacingAndGlyphs" fill="#1a1a1a">0.804</text>
<line x1="960.40" y1="408.10" x2="963.60" y2="408.10" stroke="#555" stroke-width="1"/>
<text x="958.40" y="413.60" font-family='"Liberation Sans", sans-serif' font-size="14.0" text-anchor="end" textLength="36.06" lengthAdjust="spacingAndGlyphs" fill="#1a1a1a">0.805</text>
<line x1="960.40" y1="368.02" x2="963.60" y2="368.02" stroke="#555" stroke-width="1"/>
<text x="958.40" y="373.52" font-family='"Liberation Sans", sans-serif' font-size="14.0" text-anchor="end" textLength="36.06" lengthAdjust="spacingAndGlyphs" fill="#1a1a1a">0.806</text>
<text x="1149.05" y="648.90" font-family='"Liberation Sans", sans-serif' font-size="17.6" text-anchor="middle" textLength="86.73" lengthAdjust="spacingAndGlyphs" fill="#1a1a1a">Batch size</text>
<g transform="translate(915.80,476.50) rotate(-90)"><text x="0.00" y="0.00" font-family='"Liberation Sans", sans-serif' font-size="17.6" text-anchor="middle" textLength="35.73" lengthAdjust="spacingAndGlyphs" fill="#1a1a1a">AUC</text></g>
<rect x="1253.10" y="347.00" width="73.80" height="70.50" rx="3" ry="3" fill="#ffffff" fill-opacity="0.8" stroke="#d8d8d8" stroke-width="1"/>
<line x1="1258.20" y1="359.10" x2="1289.90" y2="359.10" stroke="#1f77b4" stroke-opacity="1.0" stroke-width="2.6"/>
<polygon points="1274.05,354.30 1269.25,363.90 1278.85,363.90" fill="#1f77b4" stroke="#1f77b4" stroke-width="1.0" fill-opacity="1.0" stroke-opacity="1.0" stroke-linejoin="miter"/>
<g transform="translate(1301.10,354.80) scale(1.0000)" fill="none" stroke="#1a1a1a" stroke-linecap="round"><path d="M0,1.9 C1,0.6 2.5,0.3 4.6,0.3" stroke-width="1.1"/><path d="M4.6,0.3 C8,0.3 11,0.7 11,2.8 C11,4.8 8.3,6 5.8,6" stroke-width="1.35"/><path d="M4.8,0.6 C4.4,3.5 3.2,7.5 1.2,10" stroke-width="1.9"/></g>
<line x1="1258.20" y1="381.80" x2="1289.90" y2="381.80" stroke="#d62728" stroke-opacity="1.0" stroke-width="2.6"/>
<polygon points="1269.25,381.80 1278.85,377.00 1278.85,386.60" fill="#d62728" stroke="#d62728" stroke-width="1.0" fill-opacity="1.0" stroke-opacity="1.0" stroke-linejoin="miter"/>
<g transform="translate(1301.10,376.70) scale(1.0000)" fill="none" stroke="#1a1a1a" stroke-linecap="round"><path d="M8.8,2.5 C8.2,1.2 6.7,0.9 5.3,1.0 C3.6,1.2 2.8,2.3 3.3,3.7" stroke-width="1.0"/><path d="M3.3,3.7 C4,5.1 7.6,6 8.1,7.8" stroke-width="1.8"/><path d="M8.1,7.8 C8.6,9.5 6.8,10.4 4.8,10.4 C2.6,10.4 1,9.8 0.1,8.4" stroke-width="1.1"/></g>
<g transform="translate(1313.20,373.90) scale(1.0000)"><path d="M5.4,0.9 A2.8,2.8 0 1 1 1.9,1.6" fill="none" stroke="#1a1a1a" stroke-width="1.05"/><path d="M0.0,0.2 L3.4,0.8 L1.3,3.6 Z" fill="#1a1a1a"/></g>
<line x1="1258.20" y1="403.20" x2="1289.90" y2="403.20" stroke="#ff7f0e" stroke-opacity="1.0" stroke-width="2.6"/>
<polygon points="1278.85,403.20 1269.25,398.40 1269.25,408.00" fill="#ff7f0e" stroke="#ff7f0e" stroke-width="1.0" fill-opacity="1.0" stroke-opacity="1.0" stroke-linejoin="miter"/>
<g transform="translate(1301.10,398.10) scale(1.0000)" fill="none" stroke="#1a1a1a" stroke-linecap="round"><path d="M8.8,2.5 C8.2,1.2 6.7,0.9 5.3,1.0 C3.6,1.2 2.8,2.3 3.3,3.7" stroke-width="1.0"/><path d="M3.3,3.7 C4,5.1 7.6,6 8.1,7.8" stroke-width="1.8"/><path d="M8.1,7.8 C8.6,9.5 6.8,10.4 4.8,10.4 C2.6,10.4 1,9.8 0.1,8.4" stroke-width="1.1"/></g>
<path d="M1313.48,397.70 L1315.48,399.70 L1313.48,401.70 L1311.48,399.70 Z" fill="none" stroke="#1a1a1a" stroke-width="1.00"/>
</g>
</svg>
</body></html>
